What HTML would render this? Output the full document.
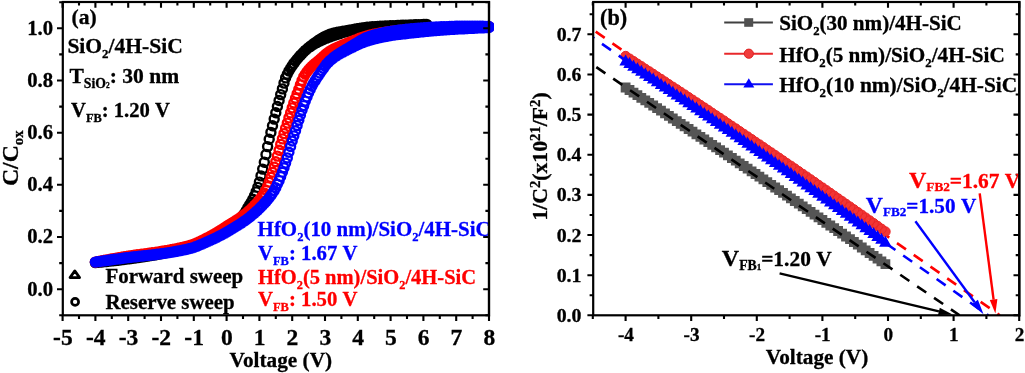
<!DOCTYPE html><html><head><meta charset="utf-8"><style>html,body{margin:0;padding:0;background:#fff;overflow:hidden}svg{display:block;filter:blur(0.4px)}</style></head><body>
<svg width="1025" height="373" viewBox="0 0 1025 373">
<rect width="1025" height="373" fill="#fff"/>
<clipPath id="clipA"><rect x="62.8" y="2.0" width="431.2" height="313.3"/></clipPath>
<g clip-path="url(#clipA)">
<path d="M313.1,47.6a4.5,4.5 0 1,0 -9.00,0a4.5,4.5 0 1,0 9.00,0M314.7,46.3a4.5,4.5 0 1,0 -9.00,0a4.5,4.5 0 1,0 9.00,0M316.4,45.1a4.5,4.5 0 1,0 -9.00,0a4.5,4.5 0 1,0 9.00,0M318.0,43.8a4.5,4.5 0 1,0 -9.00,0a4.5,4.5 0 1,0 9.00,0M319.7,42.6a4.5,4.5 0 1,0 -9.00,0a4.5,4.5 0 1,0 9.00,0M321.3,41.5a4.5,4.5 0 1,0 -9.00,0a4.5,4.5 0 1,0 9.00,0M322.9,40.3a4.5,4.5 0 1,0 -9.00,0a4.5,4.5 0 1,0 9.00,0M324.6,39.3a4.5,4.5 0 1,0 -9.00,0a4.5,4.5 0 1,0 9.00,0M326.2,38.3a4.5,4.5 0 1,0 -9.00,0a4.5,4.5 0 1,0 9.00,0M327.9,37.3a4.5,4.5 0 1,0 -9.00,0a4.5,4.5 0 1,0 9.00,0M329.5,36.4a4.5,4.5 0 1,0 -9.00,0a4.5,4.5 0 1,0 9.00,0M331.1,35.6a4.5,4.5 0 1,0 -9.00,0a4.5,4.5 0 1,0 9.00,0M332.8,34.9a4.5,4.5 0 1,0 -9.00,0a4.5,4.5 0 1,0 9.00,0M334.4,34.3a4.5,4.5 0 1,0 -9.00,0a4.5,4.5 0 1,0 9.00,0M336.1,33.8a4.5,4.5 0 1,0 -9.00,0a4.5,4.5 0 1,0 9.00,0M337.7,33.3a4.5,4.5 0 1,0 -9.00,0a4.5,4.5 0 1,0 9.00,0M339.3,32.9a4.5,4.5 0 1,0 -9.00,0a4.5,4.5 0 1,0 9.00,0M341.0,32.5a4.5,4.5 0 1,0 -9.00,0a4.5,4.5 0 1,0 9.00,0M342.6,32.2a4.5,4.5 0 1,0 -9.00,0a4.5,4.5 0 1,0 9.00,0M344.3,31.9a4.5,4.5 0 1,0 -9.00,0a4.5,4.5 0 1,0 9.00,0M345.9,31.6a4.5,4.5 0 1,0 -9.00,0a4.5,4.5 0 1,0 9.00,0M347.5,31.3a4.5,4.5 0 1,0 -9.00,0a4.5,4.5 0 1,0 9.00,0M349.2,31.1a4.5,4.5 0 1,0 -9.00,0a4.5,4.5 0 1,0 9.00,0M350.8,30.8a4.5,4.5 0 1,0 -9.00,0a4.5,4.5 0 1,0 9.00,0M352.5,30.5a4.5,4.5 0 1,0 -9.00,0a4.5,4.5 0 1,0 9.00,0M354.1,30.2a4.5,4.5 0 1,0 -9.00,0a4.5,4.5 0 1,0 9.00,0M355.7,29.9a4.5,4.5 0 1,0 -9.00,0a4.5,4.5 0 1,0 9.00,0M357.4,29.6a4.5,4.5 0 1,0 -9.00,0a4.5,4.5 0 1,0 9.00,0M359.0,29.3a4.5,4.5 0 1,0 -9.00,0a4.5,4.5 0 1,0 9.00,0M360.7,29.0a4.5,4.5 0 1,0 -9.00,0a4.5,4.5 0 1,0 9.00,0M362.3,28.7a4.5,4.5 0 1,0 -9.00,0a4.5,4.5 0 1,0 9.00,0M363.9,28.4a4.5,4.5 0 1,0 -9.00,0a4.5,4.5 0 1,0 9.00,0M365.6,28.1a4.5,4.5 0 1,0 -9.00,0a4.5,4.5 0 1,0 9.00,0M367.2,27.9a4.5,4.5 0 1,0 -9.00,0a4.5,4.5 0 1,0 9.00,0M368.9,27.6a4.5,4.5 0 1,0 -9.00,0a4.5,4.5 0 1,0 9.00,0M370.5,27.4a4.5,4.5 0 1,0 -9.00,0a4.5,4.5 0 1,0 9.00,0M313.1,47.7a4.5,4.5 0 1,0 -9.00,0a4.5,4.5 0 1,0 9.00,0M314.7,46.6a4.5,4.5 0 1,0 -9.00,0a4.5,4.5 0 1,0 9.00,0M316.4,45.5a4.5,4.5 0 1,0 -9.00,0a4.5,4.5 0 1,0 9.00,0M318.0,44.5a4.5,4.5 0 1,0 -9.00,0a4.5,4.5 0 1,0 9.00,0M319.7,43.5a4.5,4.5 0 1,0 -9.00,0a4.5,4.5 0 1,0 9.00,0M321.3,42.6a4.5,4.5 0 1,0 -9.00,0a4.5,4.5 0 1,0 9.00,0M322.9,41.8a4.5,4.5 0 1,0 -9.00,0a4.5,4.5 0 1,0 9.00,0M324.6,41.0a4.5,4.5 0 1,0 -9.00,0a4.5,4.5 0 1,0 9.00,0M326.2,40.2a4.5,4.5 0 1,0 -9.00,0a4.5,4.5 0 1,0 9.00,0M327.9,39.5a4.5,4.5 0 1,0 -9.00,0a4.5,4.5 0 1,0 9.00,0M329.5,38.8a4.5,4.5 0 1,0 -9.00,0a4.5,4.5 0 1,0 9.00,0M331.1,38.1a4.5,4.5 0 1,0 -9.00,0a4.5,4.5 0 1,0 9.00,0M332.8,37.5a4.5,4.5 0 1,0 -9.00,0a4.5,4.5 0 1,0 9.00,0M334.4,36.9a4.5,4.5 0 1,0 -9.00,0a4.5,4.5 0 1,0 9.00,0M336.1,36.3a4.5,4.5 0 1,0 -9.00,0a4.5,4.5 0 1,0 9.00,0M337.7,35.8a4.5,4.5 0 1,0 -9.00,0a4.5,4.5 0 1,0 9.00,0M339.3,35.2a4.5,4.5 0 1,0 -9.00,0a4.5,4.5 0 1,0 9.00,0M341.0,34.6a4.5,4.5 0 1,0 -9.00,0a4.5,4.5 0 1,0 9.00,0M342.6,34.1a4.5,4.5 0 1,0 -9.00,0a4.5,4.5 0 1,0 9.00,0M344.3,33.6a4.5,4.5 0 1,0 -9.00,0a4.5,4.5 0 1,0 9.00,0M345.9,33.0a4.5,4.5 0 1,0 -9.00,0a4.5,4.5 0 1,0 9.00,0M347.5,32.5a4.5,4.5 0 1,0 -9.00,0a4.5,4.5 0 1,0 9.00,0M349.2,32.1a4.5,4.5 0 1,0 -9.00,0a4.5,4.5 0 1,0 9.00,0M350.8,31.6a4.5,4.5 0 1,0 -9.00,0a4.5,4.5 0 1,0 9.00,0M352.5,31.2a4.5,4.5 0 1,0 -9.00,0a4.5,4.5 0 1,0 9.00,0M354.1,30.8a4.5,4.5 0 1,0 -9.00,0a4.5,4.5 0 1,0 9.00,0M355.7,30.4a4.5,4.5 0 1,0 -9.00,0a4.5,4.5 0 1,0 9.00,0M357.4,30.1a4.5,4.5 0 1,0 -9.00,0a4.5,4.5 0 1,0 9.00,0M359.0,29.7a4.5,4.5 0 1,0 -9.00,0a4.5,4.5 0 1,0 9.00,0M360.7,29.3a4.5,4.5 0 1,0 -9.00,0a4.5,4.5 0 1,0 9.00,0M362.3,29.0a4.5,4.5 0 1,0 -9.00,0a4.5,4.5 0 1,0 9.00,0M363.9,28.6a4.5,4.5 0 1,0 -9.00,0a4.5,4.5 0 1,0 9.00,0M365.6,28.3a4.5,4.5 0 1,0 -9.00,0a4.5,4.5 0 1,0 9.00,0M367.2,28.0a4.5,4.5 0 1,0 -9.00,0a4.5,4.5 0 1,0 9.00,0M368.9,27.7a4.5,4.5 0 1,0 -9.00,0a4.5,4.5 0 1,0 9.00,0M370.5,27.5a4.5,4.5 0 1,0 -9.00,0a4.5,4.5 0 1,0 9.00,0M99.9,262.6a4.5,4.5 0 1,0 -9.00,0a4.5,4.5 0 1,0 9.00,0M101.5,262.4a4.5,4.5 0 1,0 -9.00,0a4.5,4.5 0 1,0 9.00,0M103.2,262.3a4.5,4.5 0 1,0 -9.00,0a4.5,4.5 0 1,0 9.00,0M104.8,262.1a4.5,4.5 0 1,0 -9.00,0a4.5,4.5 0 1,0 9.00,0M106.5,262.0a4.5,4.5 0 1,0 -9.00,0a4.5,4.5 0 1,0 9.00,0M108.1,261.8a4.5,4.5 0 1,0 -9.00,0a4.5,4.5 0 1,0 9.00,0M109.7,261.6a4.5,4.5 0 1,0 -9.00,0a4.5,4.5 0 1,0 9.00,0M111.4,261.5a4.5,4.5 0 1,0 -9.00,0a4.5,4.5 0 1,0 9.00,0M113.0,261.3a4.5,4.5 0 1,0 -9.00,0a4.5,4.5 0 1,0 9.00,0M114.7,261.1a4.5,4.5 0 1,0 -9.00,0a4.5,4.5 0 1,0 9.00,0M116.3,260.9a4.5,4.5 0 1,0 -9.00,0a4.5,4.5 0 1,0 9.00,0M117.9,260.8a4.5,4.5 0 1,0 -9.00,0a4.5,4.5 0 1,0 9.00,0M119.6,260.6a4.5,4.5 0 1,0 -9.00,0a4.5,4.5 0 1,0 9.00,0M121.2,260.4a4.5,4.5 0 1,0 -9.00,0a4.5,4.5 0 1,0 9.00,0M122.9,260.2a4.5,4.5 0 1,0 -9.00,0a4.5,4.5 0 1,0 9.00,0M124.5,260.0a4.5,4.5 0 1,0 -9.00,0a4.5,4.5 0 1,0 9.00,0M126.1,259.8a4.5,4.5 0 1,0 -9.00,0a4.5,4.5 0 1,0 9.00,0M127.8,259.6a4.5,4.5 0 1,0 -9.00,0a4.5,4.5 0 1,0 9.00,0M129.4,259.4a4.5,4.5 0 1,0 -9.00,0a4.5,4.5 0 1,0 9.00,0M131.1,259.1a4.5,4.5 0 1,0 -9.00,0a4.5,4.5 0 1,0 9.00,0M132.7,258.9a4.5,4.5 0 1,0 -9.00,0a4.5,4.5 0 1,0 9.00,0M134.3,258.7a4.5,4.5 0 1,0 -9.00,0a4.5,4.5 0 1,0 9.00,0M136.0,258.5a4.5,4.5 0 1,0 -9.00,0a4.5,4.5 0 1,0 9.00,0M137.6,258.3a4.5,4.5 0 1,0 -9.00,0a4.5,4.5 0 1,0 9.00,0M139.3,258.1a4.5,4.5 0 1,0 -9.00,0a4.5,4.5 0 1,0 9.00,0M140.9,257.8a4.5,4.5 0 1,0 -9.00,0a4.5,4.5 0 1,0 9.00,0M142.5,257.6a4.5,4.5 0 1,0 -9.00,0a4.5,4.5 0 1,0 9.00,0M144.2,257.4a4.5,4.5 0 1,0 -9.00,0a4.5,4.5 0 1,0 9.00,0M145.8,257.1a4.5,4.5 0 1,0 -9.00,0a4.5,4.5 0 1,0 9.00,0M147.5,256.9a4.5,4.5 0 1,0 -9.00,0a4.5,4.5 0 1,0 9.00,0M149.1,256.6a4.5,4.5 0 1,0 -9.00,0a4.5,4.5 0 1,0 9.00,0M150.7,256.4a4.5,4.5 0 1,0 -9.00,0a4.5,4.5 0 1,0 9.00,0M152.4,256.1a4.5,4.5 0 1,0 -9.00,0a4.5,4.5 0 1,0 9.00,0M154.0,255.8a4.5,4.5 0 1,0 -9.00,0a4.5,4.5 0 1,0 9.00,0M155.7,255.5a4.5,4.5 0 1,0 -9.00,0a4.5,4.5 0 1,0 9.00,0M157.3,255.3a4.5,4.5 0 1,0 -9.00,0a4.5,4.5 0 1,0 9.00,0M158.9,255.0a4.5,4.5 0 1,0 -9.00,0a4.5,4.5 0 1,0 9.00,0M160.6,254.7a4.5,4.5 0 1,0 -9.00,0a4.5,4.5 0 1,0 9.00,0M162.2,254.4a4.5,4.5 0 1,0 -9.00,0a4.5,4.5 0 1,0 9.00,0M163.9,254.0a4.5,4.5 0 1,0 -9.00,0a4.5,4.5 0 1,0 9.00,0M165.5,253.7a4.5,4.5 0 1,0 -9.00,0a4.5,4.5 0 1,0 9.00,0M167.1,253.4a4.5,4.5 0 1,0 -9.00,0a4.5,4.5 0 1,0 9.00,0M168.8,253.0a4.5,4.5 0 1,0 -9.00,0a4.5,4.5 0 1,0 9.00,0M170.4,252.7a4.5,4.5 0 1,0 -9.00,0a4.5,4.5 0 1,0 9.00,0M172.1,252.3a4.5,4.5 0 1,0 -9.00,0a4.5,4.5 0 1,0 9.00,0M173.7,251.9a4.5,4.5 0 1,0 -9.00,0a4.5,4.5 0 1,0 9.00,0M175.3,251.6a4.5,4.5 0 1,0 -9.00,0a4.5,4.5 0 1,0 9.00,0M177.0,251.2a4.5,4.5 0 1,0 -9.00,0a4.5,4.5 0 1,0 9.00,0M178.6,250.8a4.5,4.5 0 1,0 -9.00,0a4.5,4.5 0 1,0 9.00,0M180.3,250.3a4.5,4.5 0 1,0 -9.00,0a4.5,4.5 0 1,0 9.00,0M181.9,249.9a4.5,4.5 0 1,0 -9.00,0a4.5,4.5 0 1,0 9.00,0M183.5,249.5a4.5,4.5 0 1,0 -9.00,0a4.5,4.5 0 1,0 9.00,0M185.2,249.0a4.5,4.5 0 1,0 -9.00,0a4.5,4.5 0 1,0 9.00,0M186.8,248.5a4.5,4.5 0 1,0 -9.00,0a4.5,4.5 0 1,0 9.00,0M188.5,248.0a4.5,4.5 0 1,0 -9.00,0a4.5,4.5 0 1,0 9.00,0M190.1,247.5a4.5,4.5 0 1,0 -9.00,0a4.5,4.5 0 1,0 9.00,0M191.7,247.0a4.5,4.5 0 1,0 -9.00,0a4.5,4.5 0 1,0 9.00,0M193.4,246.5a4.5,4.5 0 1,0 -9.00,0a4.5,4.5 0 1,0 9.00,0M195.0,246.0a4.5,4.5 0 1,0 -9.00,0a4.5,4.5 0 1,0 9.00,0M196.7,245.4a4.5,4.5 0 1,0 -9.00,0a4.5,4.5 0 1,0 9.00,0M198.3,244.8a4.5,4.5 0 1,0 -9.00,0a4.5,4.5 0 1,0 9.00,0M199.9,244.2a4.5,4.5 0 1,0 -9.00,0a4.5,4.5 0 1,0 9.00,0M201.6,243.6a4.5,4.5 0 1,0 -9.00,0a4.5,4.5 0 1,0 9.00,0M203.2,242.9a4.5,4.5 0 1,0 -9.00,0a4.5,4.5 0 1,0 9.00,0M204.9,242.2a4.5,4.5 0 1,0 -9.00,0a4.5,4.5 0 1,0 9.00,0M206.5,241.5a4.5,4.5 0 1,0 -9.00,0a4.5,4.5 0 1,0 9.00,0M208.1,240.7a4.5,4.5 0 1,0 -9.00,0a4.5,4.5 0 1,0 9.00,0M209.8,239.9a4.5,4.5 0 1,0 -9.00,0a4.5,4.5 0 1,0 9.00,0M211.4,239.1a4.5,4.5 0 1,0 -9.00,0a4.5,4.5 0 1,0 9.00,0M213.1,238.2a4.5,4.5 0 1,0 -9.00,0a4.5,4.5 0 1,0 9.00,0M214.7,237.4a4.5,4.5 0 1,0 -9.00,0a4.5,4.5 0 1,0 9.00,0M216.3,236.5a4.5,4.5 0 1,0 -9.00,0a4.5,4.5 0 1,0 9.00,0M218.0,235.6a4.5,4.5 0 1,0 -9.00,0a4.5,4.5 0 1,0 9.00,0M219.6,234.8a4.5,4.5 0 1,0 -9.00,0a4.5,4.5 0 1,0 9.00,0M221.3,233.9a4.5,4.5 0 1,0 -9.00,0a4.5,4.5 0 1,0 9.00,0M222.9,233.0a4.5,4.5 0 1,0 -9.00,0a4.5,4.5 0 1,0 9.00,0M224.5,232.1a4.5,4.5 0 1,0 -9.00,0a4.5,4.5 0 1,0 9.00,0M226.2,231.2a4.5,4.5 0 1,0 -9.00,0a4.5,4.5 0 1,0 9.00,0M227.8,230.3a4.5,4.5 0 1,0 -9.00,0a4.5,4.5 0 1,0 9.00,0M229.5,229.3a4.5,4.5 0 1,0 -9.00,0a4.5,4.5 0 1,0 9.00,0M231.1,228.3a4.5,4.5 0 1,0 -9.00,0a4.5,4.5 0 1,0 9.00,0M232.7,227.3a4.5,4.5 0 1,0 -9.00,0a4.5,4.5 0 1,0 9.00,0M234.4,226.2a4.5,4.5 0 1,0 -9.00,0a4.5,4.5 0 1,0 9.00,0M236.0,225.1a4.5,4.5 0 1,0 -9.00,0a4.5,4.5 0 1,0 9.00,0M237.7,224.0a4.5,4.5 0 1,0 -9.00,0a4.5,4.5 0 1,0 9.00,0M239.3,222.8a4.5,4.5 0 1,0 -9.00,0a4.5,4.5 0 1,0 9.00,0M240.9,221.6a4.5,4.5 0 1,0 -9.00,0a4.5,4.5 0 1,0 9.00,0M242.6,220.3a4.5,4.5 0 1,0 -9.00,0a4.5,4.5 0 1,0 9.00,0M244.2,219.0a4.5,4.5 0 1,0 -9.00,0a4.5,4.5 0 1,0 9.00,0M245.9,217.4a4.5,4.5 0 1,0 -9.00,0a4.5,4.5 0 1,0 9.00,0M247.5,215.6a4.5,4.5 0 1,0 -9.00,0a4.5,4.5 0 1,0 9.00,0M249.1,213.3a4.5,4.5 0 1,0 -9.00,0a4.5,4.5 0 1,0 9.00,0M250.8,210.5a4.5,4.5 0 1,0 -9.00,0a4.5,4.5 0 1,0 9.00,0M252.4,207.6a4.5,4.5 0 1,0 -9.00,0a4.5,4.5 0 1,0 9.00,0M254.1,204.9a4.5,4.5 0 1,0 -9.00,0a4.5,4.5 0 1,0 9.00,0M255.7,202.2a4.5,4.5 0 1,0 -9.00,0a4.5,4.5 0 1,0 9.00,0M257.3,199.2a4.5,4.5 0 1,0 -9.00,0a4.5,4.5 0 1,0 9.00,0M259.0,195.8a4.5,4.5 0 1,0 -9.00,0a4.5,4.5 0 1,0 9.00,0M260.6,191.9a4.5,4.5 0 1,0 -9.00,0a4.5,4.5 0 1,0 9.00,0M262.3,187.4a4.5,4.5 0 1,0 -9.00,0a4.5,4.5 0 1,0 9.00,0M263.9,182.1a4.5,4.5 0 1,0 -9.00,0a4.5,4.5 0 1,0 9.00,0M265.5,175.9a4.5,4.5 0 1,0 -9.00,0a4.5,4.5 0 1,0 9.00,0M267.2,169.1a4.5,4.5 0 1,0 -9.00,0a4.5,4.5 0 1,0 9.00,0M268.8,162.2a4.5,4.5 0 1,0 -9.00,0a4.5,4.5 0 1,0 9.00,0M270.5,154.5a4.5,4.5 0 1,0 -9.00,0a4.5,4.5 0 1,0 9.00,0M272.1,146.6a4.5,4.5 0 1,0 -9.00,0a4.5,4.5 0 1,0 9.00,0M273.7,139.3a4.5,4.5 0 1,0 -9.00,0a4.5,4.5 0 1,0 9.00,0M275.4,132.4a4.5,4.5 0 1,0 -9.00,0a4.5,4.5 0 1,0 9.00,0M277.0,125.7a4.5,4.5 0 1,0 -9.00,0a4.5,4.5 0 1,0 9.00,0M278.7,119.1a4.5,4.5 0 1,0 -9.00,0a4.5,4.5 0 1,0 9.00,0M280.3,112.7a4.5,4.5 0 1,0 -9.00,0a4.5,4.5 0 1,0 9.00,0M281.9,106.5a4.5,4.5 0 1,0 -9.00,0a4.5,4.5 0 1,0 9.00,0M283.6,100.5a4.5,4.5 0 1,0 -9.00,0a4.5,4.5 0 1,0 9.00,0M285.2,94.6a4.5,4.5 0 1,0 -9.00,0a4.5,4.5 0 1,0 9.00,0M286.9,88.9a4.5,4.5 0 1,0 -9.00,0a4.5,4.5 0 1,0 9.00,0M288.5,83.1a4.5,4.5 0 1,0 -9.00,0a4.5,4.5 0 1,0 9.00,0M290.1,77.9a4.5,4.5 0 1,0 -9.00,0a4.5,4.5 0 1,0 9.00,0M291.8,74.2a4.5,4.5 0 1,0 -9.00,0a4.5,4.5 0 1,0 9.00,0M293.4,71.0a4.5,4.5 0 1,0 -9.00,0a4.5,4.5 0 1,0 9.00,0M295.1,68.2a4.5,4.5 0 1,0 -9.00,0a4.5,4.5 0 1,0 9.00,0M296.7,65.7a4.5,4.5 0 1,0 -9.00,0a4.5,4.5 0 1,0 9.00,0M298.3,63.4a4.5,4.5 0 1,0 -9.00,0a4.5,4.5 0 1,0 9.00,0M300.0,61.2a4.5,4.5 0 1,0 -9.00,0a4.5,4.5 0 1,0 9.00,0M301.6,59.2a4.5,4.5 0 1,0 -9.00,0a4.5,4.5 0 1,0 9.00,0M303.3,57.3a4.5,4.5 0 1,0 -9.00,0a4.5,4.5 0 1,0 9.00,0M304.9,55.4a4.5,4.5 0 1,0 -9.00,0a4.5,4.5 0 1,0 9.00,0M306.5,53.7a4.5,4.5 0 1,0 -9.00,0a4.5,4.5 0 1,0 9.00,0M308.2,52.0a4.5,4.5 0 1,0 -9.00,0a4.5,4.5 0 1,0 9.00,0M309.8,50.4a4.5,4.5 0 1,0 -9.00,0a4.5,4.5 0 1,0 9.00,0M311.5,49.0a4.5,4.5 0 1,0 -9.00,0a4.5,4.5 0 1,0 9.00,0M313.1,47.7a4.5,4.5 0 1,0 -9.00,0a4.5,4.5 0 1,0 9.00,0M314.7,46.4a4.5,4.5 0 1,0 -9.00,0a4.5,4.5 0 1,0 9.00,0M316.4,45.3a4.5,4.5 0 1,0 -9.00,0a4.5,4.5 0 1,0 9.00,0M318.0,44.2a4.5,4.5 0 1,0 -9.00,0a4.5,4.5 0 1,0 9.00,0M319.7,43.1a4.5,4.5 0 1,0 -9.00,0a4.5,4.5 0 1,0 9.00,0M321.3,42.1a4.5,4.5 0 1,0 -9.00,0a4.5,4.5 0 1,0 9.00,0M322.9,41.1a4.5,4.5 0 1,0 -9.00,0a4.5,4.5 0 1,0 9.00,0M324.6,40.1a4.5,4.5 0 1,0 -9.00,0a4.5,4.5 0 1,0 9.00,0M326.2,39.2a4.5,4.5 0 1,0 -9.00,0a4.5,4.5 0 1,0 9.00,0M327.9,38.4a4.5,4.5 0 1,0 -9.00,0a4.5,4.5 0 1,0 9.00,0M329.5,37.6a4.5,4.5 0 1,0 -9.00,0a4.5,4.5 0 1,0 9.00,0M331.1,36.9a4.5,4.5 0 1,0 -9.00,0a4.5,4.5 0 1,0 9.00,0M332.8,36.2a4.5,4.5 0 1,0 -9.00,0a4.5,4.5 0 1,0 9.00,0M334.4,35.6a4.5,4.5 0 1,0 -9.00,0a4.5,4.5 0 1,0 9.00,0M336.1,35.0a4.5,4.5 0 1,0 -9.00,0a4.5,4.5 0 1,0 9.00,0M337.7,34.5a4.5,4.5 0 1,0 -9.00,0a4.5,4.5 0 1,0 9.00,0M339.3,34.0a4.5,4.5 0 1,0 -9.00,0a4.5,4.5 0 1,0 9.00,0M341.0,33.6a4.5,4.5 0 1,0 -9.00,0a4.5,4.5 0 1,0 9.00,0M342.6,33.1a4.5,4.5 0 1,0 -9.00,0a4.5,4.5 0 1,0 9.00,0M344.3,32.7a4.5,4.5 0 1,0 -9.00,0a4.5,4.5 0 1,0 9.00,0M345.9,32.3a4.5,4.5 0 1,0 -9.00,0a4.5,4.5 0 1,0 9.00,0M347.5,31.9a4.5,4.5 0 1,0 -9.00,0a4.5,4.5 0 1,0 9.00,0M349.2,31.6a4.5,4.5 0 1,0 -9.00,0a4.5,4.5 0 1,0 9.00,0M350.8,31.2a4.5,4.5 0 1,0 -9.00,0a4.5,4.5 0 1,0 9.00,0M352.5,30.9a4.5,4.5 0 1,0 -9.00,0a4.5,4.5 0 1,0 9.00,0M354.1,30.5a4.5,4.5 0 1,0 -9.00,0a4.5,4.5 0 1,0 9.00,0M355.7,30.2a4.5,4.5 0 1,0 -9.00,0a4.5,4.5 0 1,0 9.00,0M357.4,29.8a4.5,4.5 0 1,0 -9.00,0a4.5,4.5 0 1,0 9.00,0M359.0,29.5a4.5,4.5 0 1,0 -9.00,0a4.5,4.5 0 1,0 9.00,0M360.7,29.2a4.5,4.5 0 1,0 -9.00,0a4.5,4.5 0 1,0 9.00,0M362.3,28.8a4.5,4.5 0 1,0 -9.00,0a4.5,4.5 0 1,0 9.00,0M363.9,28.5a4.5,4.5 0 1,0 -9.00,0a4.5,4.5 0 1,0 9.00,0M365.6,28.2a4.5,4.5 0 1,0 -9.00,0a4.5,4.5 0 1,0 9.00,0M367.2,27.9a4.5,4.5 0 1,0 -9.00,0a4.5,4.5 0 1,0 9.00,0M368.9,27.7a4.5,4.5 0 1,0 -9.00,0a4.5,4.5 0 1,0 9.00,0M370.5,27.4a4.5,4.5 0 1,0 -9.00,0a4.5,4.5 0 1,0 9.00,0M372.1,27.2a4.5,4.5 0 1,0 -9.00,0a4.5,4.5 0 1,0 9.00,0M373.8,27.1a4.5,4.5 0 1,0 -9.00,0a4.5,4.5 0 1,0 9.00,0M375.4,26.9a4.5,4.5 0 1,0 -9.00,0a4.5,4.5 0 1,0 9.00,0M377.1,26.8a4.5,4.5 0 1,0 -9.00,0a4.5,4.5 0 1,0 9.00,0M378.7,26.7a4.5,4.5 0 1,0 -9.00,0a4.5,4.5 0 1,0 9.00,0M380.3,26.6a4.5,4.5 0 1,0 -9.00,0a4.5,4.5 0 1,0 9.00,0M382.0,26.5a4.5,4.5 0 1,0 -9.00,0a4.5,4.5 0 1,0 9.00,0M383.6,26.4a4.5,4.5 0 1,0 -9.00,0a4.5,4.5 0 1,0 9.00,0M385.3,26.3a4.5,4.5 0 1,0 -9.00,0a4.5,4.5 0 1,0 9.00,0M386.9,26.2a4.5,4.5 0 1,0 -9.00,0a4.5,4.5 0 1,0 9.00,0M388.5,26.1a4.5,4.5 0 1,0 -9.00,0a4.5,4.5 0 1,0 9.00,0M390.2,26.0a4.5,4.5 0 1,0 -9.00,0a4.5,4.5 0 1,0 9.00,0M391.8,26.0a4.5,4.5 0 1,0 -9.00,0a4.5,4.5 0 1,0 9.00,0M393.5,25.9a4.5,4.5 0 1,0 -9.00,0a4.5,4.5 0 1,0 9.00,0M395.1,25.8a4.5,4.5 0 1,0 -9.00,0a4.5,4.5 0 1,0 9.00,0M396.7,25.7a4.5,4.5 0 1,0 -9.00,0a4.5,4.5 0 1,0 9.00,0M398.4,25.7a4.5,4.5 0 1,0 -9.00,0a4.5,4.5 0 1,0 9.00,0M400.0,25.6a4.5,4.5 0 1,0 -9.00,0a4.5,4.5 0 1,0 9.00,0M401.7,25.5a4.5,4.5 0 1,0 -9.00,0a4.5,4.5 0 1,0 9.00,0M403.3,25.5a4.5,4.5 0 1,0 -9.00,0a4.5,4.5 0 1,0 9.00,0M404.9,25.4a4.5,4.5 0 1,0 -9.00,0a4.5,4.5 0 1,0 9.00,0M406.6,25.3a4.5,4.5 0 1,0 -9.00,0a4.5,4.5 0 1,0 9.00,0M408.2,25.3a4.5,4.5 0 1,0 -9.00,0a4.5,4.5 0 1,0 9.00,0M409.9,25.2a4.5,4.5 0 1,0 -9.00,0a4.5,4.5 0 1,0 9.00,0M411.5,25.1a4.5,4.5 0 1,0 -9.00,0a4.5,4.5 0 1,0 9.00,0M413.1,25.1a4.5,4.5 0 1,0 -9.00,0a4.5,4.5 0 1,0 9.00,0M414.8,25.0a4.5,4.5 0 1,0 -9.00,0a4.5,4.5 0 1,0 9.00,0M416.4,24.9a4.5,4.5 0 1,0 -9.00,0a4.5,4.5 0 1,0 9.00,0M418.1,24.9a4.5,4.5 0 1,0 -9.00,0a4.5,4.5 0 1,0 9.00,0M419.7,24.8a4.5,4.5 0 1,0 -9.00,0a4.5,4.5 0 1,0 9.00,0M421.3,24.7a4.5,4.5 0 1,0 -9.00,0a4.5,4.5 0 1,0 9.00,0M423.0,24.7a4.5,4.5 0 1,0 -9.00,0a4.5,4.5 0 1,0 9.00,0M424.6,24.6a4.5,4.5 0 1,0 -9.00,0a4.5,4.5 0 1,0 9.00,0M426.3,24.6a4.5,4.5 0 1,0 -9.00,0a4.5,4.5 0 1,0 9.00,0M427.9,24.5a4.5,4.5 0 1,0 -9.00,0a4.5,4.5 0 1,0 9.00,0M429.5,24.4a4.5,4.5 0 1,0 -9.00,0a4.5,4.5 0 1,0 9.00,0M431.2,24.4a4.5,4.5 0 1,0 -9.00,0a4.5,4.5 0 1,0 9.00,0" fill="none" stroke="#000" stroke-width="2.4"/>
<path d="M99.9,262.1a4.5,4.5 0 1,0 -9.00,0a4.5,4.5 0 1,0 9.00,0M101.5,261.7a4.5,4.5 0 1,0 -9.00,0a4.5,4.5 0 1,0 9.00,0M103.2,261.4a4.5,4.5 0 1,0 -9.00,0a4.5,4.5 0 1,0 9.00,0M104.8,261.1a4.5,4.5 0 1,0 -9.00,0a4.5,4.5 0 1,0 9.00,0M106.5,260.8a4.5,4.5 0 1,0 -9.00,0a4.5,4.5 0 1,0 9.00,0M108.1,260.5a4.5,4.5 0 1,0 -9.00,0a4.5,4.5 0 1,0 9.00,0M109.7,260.2a4.5,4.5 0 1,0 -9.00,0a4.5,4.5 0 1,0 9.00,0M111.4,259.9a4.5,4.5 0 1,0 -9.00,0a4.5,4.5 0 1,0 9.00,0M113.0,259.6a4.5,4.5 0 1,0 -9.00,0a4.5,4.5 0 1,0 9.00,0M114.7,259.3a4.5,4.5 0 1,0 -9.00,0a4.5,4.5 0 1,0 9.00,0M116.3,259.0a4.5,4.5 0 1,0 -9.00,0a4.5,4.5 0 1,0 9.00,0M117.9,258.7a4.5,4.5 0 1,0 -9.00,0a4.5,4.5 0 1,0 9.00,0M119.6,258.4a4.5,4.5 0 1,0 -9.00,0a4.5,4.5 0 1,0 9.00,0M121.2,258.1a4.5,4.5 0 1,0 -9.00,0a4.5,4.5 0 1,0 9.00,0M122.9,257.8a4.5,4.5 0 1,0 -9.00,0a4.5,4.5 0 1,0 9.00,0M124.5,257.6a4.5,4.5 0 1,0 -9.00,0a4.5,4.5 0 1,0 9.00,0M126.1,257.3a4.5,4.5 0 1,0 -9.00,0a4.5,4.5 0 1,0 9.00,0M127.8,257.0a4.5,4.5 0 1,0 -9.00,0a4.5,4.5 0 1,0 9.00,0M129.4,256.7a4.5,4.5 0 1,0 -9.00,0a4.5,4.5 0 1,0 9.00,0M131.1,256.5a4.5,4.5 0 1,0 -9.00,0a4.5,4.5 0 1,0 9.00,0M132.7,256.2a4.5,4.5 0 1,0 -9.00,0a4.5,4.5 0 1,0 9.00,0M134.3,256.0a4.5,4.5 0 1,0 -9.00,0a4.5,4.5 0 1,0 9.00,0M136.0,255.7a4.5,4.5 0 1,0 -9.00,0a4.5,4.5 0 1,0 9.00,0M137.6,255.5a4.5,4.5 0 1,0 -9.00,0a4.5,4.5 0 1,0 9.00,0M139.3,255.2a4.5,4.5 0 1,0 -9.00,0a4.5,4.5 0 1,0 9.00,0M140.9,255.0a4.5,4.5 0 1,0 -9.00,0a4.5,4.5 0 1,0 9.00,0M142.5,254.8a4.5,4.5 0 1,0 -9.00,0a4.5,4.5 0 1,0 9.00,0M144.2,254.6a4.5,4.5 0 1,0 -9.00,0a4.5,4.5 0 1,0 9.00,0M145.8,254.3a4.5,4.5 0 1,0 -9.00,0a4.5,4.5 0 1,0 9.00,0M147.5,254.1a4.5,4.5 0 1,0 -9.00,0a4.5,4.5 0 1,0 9.00,0M149.1,253.9a4.5,4.5 0 1,0 -9.00,0a4.5,4.5 0 1,0 9.00,0M150.7,253.7a4.5,4.5 0 1,0 -9.00,0a4.5,4.5 0 1,0 9.00,0M152.4,253.5a4.5,4.5 0 1,0 -9.00,0a4.5,4.5 0 1,0 9.00,0M154.0,253.3a4.5,4.5 0 1,0 -9.00,0a4.5,4.5 0 1,0 9.00,0M155.7,253.0a4.5,4.5 0 1,0 -9.00,0a4.5,4.5 0 1,0 9.00,0M157.3,252.8a4.5,4.5 0 1,0 -9.00,0a4.5,4.5 0 1,0 9.00,0M158.9,252.6a4.5,4.5 0 1,0 -9.00,0a4.5,4.5 0 1,0 9.00,0M160.6,252.3a4.5,4.5 0 1,0 -9.00,0a4.5,4.5 0 1,0 9.00,0M162.2,252.1a4.5,4.5 0 1,0 -9.00,0a4.5,4.5 0 1,0 9.00,0M163.9,251.8a4.5,4.5 0 1,0 -9.00,0a4.5,4.5 0 1,0 9.00,0M165.5,251.5a4.5,4.5 0 1,0 -9.00,0a4.5,4.5 0 1,0 9.00,0M167.1,251.3a4.5,4.5 0 1,0 -9.00,0a4.5,4.5 0 1,0 9.00,0M168.8,251.0a4.5,4.5 0 1,0 -9.00,0a4.5,4.5 0 1,0 9.00,0M170.4,250.7a4.5,4.5 0 1,0 -9.00,0a4.5,4.5 0 1,0 9.00,0M172.1,250.4a4.5,4.5 0 1,0 -9.00,0a4.5,4.5 0 1,0 9.00,0M173.7,250.1a4.5,4.5 0 1,0 -9.00,0a4.5,4.5 0 1,0 9.00,0M175.3,249.8a4.5,4.5 0 1,0 -9.00,0a4.5,4.5 0 1,0 9.00,0M177.0,249.5a4.5,4.5 0 1,0 -9.00,0a4.5,4.5 0 1,0 9.00,0M178.6,249.2a4.5,4.5 0 1,0 -9.00,0a4.5,4.5 0 1,0 9.00,0M180.3,248.9a4.5,4.5 0 1,0 -9.00,0a4.5,4.5 0 1,0 9.00,0M181.9,248.5a4.5,4.5 0 1,0 -9.00,0a4.5,4.5 0 1,0 9.00,0M183.5,248.2a4.5,4.5 0 1,0 -9.00,0a4.5,4.5 0 1,0 9.00,0M185.2,247.8a4.5,4.5 0 1,0 -9.00,0a4.5,4.5 0 1,0 9.00,0M186.8,247.4a4.5,4.5 0 1,0 -9.00,0a4.5,4.5 0 1,0 9.00,0M188.5,247.0a4.5,4.5 0 1,0 -9.00,0a4.5,4.5 0 1,0 9.00,0M190.1,246.6a4.5,4.5 0 1,0 -9.00,0a4.5,4.5 0 1,0 9.00,0M191.7,246.2a4.5,4.5 0 1,0 -9.00,0a4.5,4.5 0 1,0 9.00,0M193.4,245.7a4.5,4.5 0 1,0 -9.00,0a4.5,4.5 0 1,0 9.00,0M195.0,245.2a4.5,4.5 0 1,0 -9.00,0a4.5,4.5 0 1,0 9.00,0M196.7,244.7a4.5,4.5 0 1,0 -9.00,0a4.5,4.5 0 1,0 9.00,0M198.3,244.1a4.5,4.5 0 1,0 -9.00,0a4.5,4.5 0 1,0 9.00,0M199.9,243.4a4.5,4.5 0 1,0 -9.00,0a4.5,4.5 0 1,0 9.00,0M201.6,242.7a4.5,4.5 0 1,0 -9.00,0a4.5,4.5 0 1,0 9.00,0M203.2,242.0a4.5,4.5 0 1,0 -9.00,0a4.5,4.5 0 1,0 9.00,0M204.9,241.2a4.5,4.5 0 1,0 -9.00,0a4.5,4.5 0 1,0 9.00,0M206.5,240.4a4.5,4.5 0 1,0 -9.00,0a4.5,4.5 0 1,0 9.00,0M208.1,239.6a4.5,4.5 0 1,0 -9.00,0a4.5,4.5 0 1,0 9.00,0M209.8,238.8a4.5,4.5 0 1,0 -9.00,0a4.5,4.5 0 1,0 9.00,0M211.4,237.9a4.5,4.5 0 1,0 -9.00,0a4.5,4.5 0 1,0 9.00,0M213.1,237.1a4.5,4.5 0 1,0 -9.00,0a4.5,4.5 0 1,0 9.00,0M214.7,236.2a4.5,4.5 0 1,0 -9.00,0a4.5,4.5 0 1,0 9.00,0M216.3,235.4a4.5,4.5 0 1,0 -9.00,0a4.5,4.5 0 1,0 9.00,0M218.0,234.4a4.5,4.5 0 1,0 -9.00,0a4.5,4.5 0 1,0 9.00,0M219.6,233.5a4.5,4.5 0 1,0 -9.00,0a4.5,4.5 0 1,0 9.00,0M221.3,232.5a4.5,4.5 0 1,0 -9.00,0a4.5,4.5 0 1,0 9.00,0M222.9,231.5a4.5,4.5 0 1,0 -9.00,0a4.5,4.5 0 1,0 9.00,0M224.5,230.5a4.5,4.5 0 1,0 -9.00,0a4.5,4.5 0 1,0 9.00,0M226.2,229.5a4.5,4.5 0 1,0 -9.00,0a4.5,4.5 0 1,0 9.00,0M227.8,228.5a4.5,4.5 0 1,0 -9.00,0a4.5,4.5 0 1,0 9.00,0M229.5,227.4a4.5,4.5 0 1,0 -9.00,0a4.5,4.5 0 1,0 9.00,0M231.1,226.3a4.5,4.5 0 1,0 -9.00,0a4.5,4.5 0 1,0 9.00,0M232.7,225.3a4.5,4.5 0 1,0 -9.00,0a4.5,4.5 0 1,0 9.00,0M234.4,224.2a4.5,4.5 0 1,0 -9.00,0a4.5,4.5 0 1,0 9.00,0M236.0,223.2a4.5,4.5 0 1,0 -9.00,0a4.5,4.5 0 1,0 9.00,0M237.7,222.2a4.5,4.5 0 1,0 -9.00,0a4.5,4.5 0 1,0 9.00,0M239.3,221.2a4.5,4.5 0 1,0 -9.00,0a4.5,4.5 0 1,0 9.00,0M240.9,220.1a4.5,4.5 0 1,0 -9.00,0a4.5,4.5 0 1,0 9.00,0M242.6,219.1a4.5,4.5 0 1,0 -9.00,0a4.5,4.5 0 1,0 9.00,0M244.2,218.0a4.5,4.5 0 1,0 -9.00,0a4.5,4.5 0 1,0 9.00,0M245.9,216.8a4.5,4.5 0 1,0 -9.00,0a4.5,4.5 0 1,0 9.00,0M247.5,215.6a4.5,4.5 0 1,0 -9.00,0a4.5,4.5 0 1,0 9.00,0M249.1,214.4a4.5,4.5 0 1,0 -9.00,0a4.5,4.5 0 1,0 9.00,0M250.8,213.2a4.5,4.5 0 1,0 -9.00,0a4.5,4.5 0 1,0 9.00,0M252.4,211.8a4.5,4.5 0 1,0 -9.00,0a4.5,4.5 0 1,0 9.00,0M254.1,210.4a4.5,4.5 0 1,0 -9.00,0a4.5,4.5 0 1,0 9.00,0M255.7,208.9a4.5,4.5 0 1,0 -9.00,0a4.5,4.5 0 1,0 9.00,0M257.3,207.3a4.5,4.5 0 1,0 -9.00,0a4.5,4.5 0 1,0 9.00,0M259.0,205.6a4.5,4.5 0 1,0 -9.00,0a4.5,4.5 0 1,0 9.00,0M260.6,203.9a4.5,4.5 0 1,0 -9.00,0a4.5,4.5 0 1,0 9.00,0M262.3,202.0a4.5,4.5 0 1,0 -9.00,0a4.5,4.5 0 1,0 9.00,0M263.9,200.0a4.5,4.5 0 1,0 -9.00,0a4.5,4.5 0 1,0 9.00,0M265.5,197.9a4.5,4.5 0 1,0 -9.00,0a4.5,4.5 0 1,0 9.00,0M267.2,195.6a4.5,4.5 0 1,0 -9.00,0a4.5,4.5 0 1,0 9.00,0M268.8,193.0a4.5,4.5 0 1,0 -9.00,0a4.5,4.5 0 1,0 9.00,0M270.5,190.1a4.5,4.5 0 1,0 -9.00,0a4.5,4.5 0 1,0 9.00,0M272.1,186.5a4.5,4.5 0 1,0 -9.00,0a4.5,4.5 0 1,0 9.00,0M273.7,182.2a4.5,4.5 0 1,0 -9.00,0a4.5,4.5 0 1,0 9.00,0M275.4,177.4a4.5,4.5 0 1,0 -9.00,0a4.5,4.5 0 1,0 9.00,0M277.0,172.3a4.5,4.5 0 1,0 -9.00,0a4.5,4.5 0 1,0 9.00,0M278.7,167.1a4.5,4.5 0 1,0 -9.00,0a4.5,4.5 0 1,0 9.00,0M280.3,161.8a4.5,4.5 0 1,0 -9.00,0a4.5,4.5 0 1,0 9.00,0M281.9,156.1a4.5,4.5 0 1,0 -9.00,0a4.5,4.5 0 1,0 9.00,0M283.6,150.2a4.5,4.5 0 1,0 -9.00,0a4.5,4.5 0 1,0 9.00,0M285.2,144.4a4.5,4.5 0 1,0 -9.00,0a4.5,4.5 0 1,0 9.00,0M286.9,138.9a4.5,4.5 0 1,0 -9.00,0a4.5,4.5 0 1,0 9.00,0M288.5,133.6a4.5,4.5 0 1,0 -9.00,0a4.5,4.5 0 1,0 9.00,0M290.1,128.3a4.5,4.5 0 1,0 -9.00,0a4.5,4.5 0 1,0 9.00,0M291.8,123.1a4.5,4.5 0 1,0 -9.00,0a4.5,4.5 0 1,0 9.00,0M293.4,117.9a4.5,4.5 0 1,0 -9.00,0a4.5,4.5 0 1,0 9.00,0M295.1,112.9a4.5,4.5 0 1,0 -9.00,0a4.5,4.5 0 1,0 9.00,0M296.7,107.9a4.5,4.5 0 1,0 -9.00,0a4.5,4.5 0 1,0 9.00,0M298.3,103.0a4.5,4.5 0 1,0 -9.00,0a4.5,4.5 0 1,0 9.00,0M300.0,98.3a4.5,4.5 0 1,0 -9.00,0a4.5,4.5 0 1,0 9.00,0M301.6,93.7a4.5,4.5 0 1,0 -9.00,0a4.5,4.5 0 1,0 9.00,0M303.3,89.2a4.5,4.5 0 1,0 -9.00,0a4.5,4.5 0 1,0 9.00,0M304.9,84.8a4.5,4.5 0 1,0 -9.00,0a4.5,4.5 0 1,0 9.00,0M306.5,80.5a4.5,4.5 0 1,0 -9.00,0a4.5,4.5 0 1,0 9.00,0M308.2,76.9a4.5,4.5 0 1,0 -9.00,0a4.5,4.5 0 1,0 9.00,0M309.8,74.2a4.5,4.5 0 1,0 -9.00,0a4.5,4.5 0 1,0 9.00,0M311.5,71.8a4.5,4.5 0 1,0 -9.00,0a4.5,4.5 0 1,0 9.00,0M313.1,69.8a4.5,4.5 0 1,0 -9.00,0a4.5,4.5 0 1,0 9.00,0M314.7,68.0a4.5,4.5 0 1,0 -9.00,0a4.5,4.5 0 1,0 9.00,0M316.4,66.3a4.5,4.5 0 1,0 -9.00,0a4.5,4.5 0 1,0 9.00,0M318.0,64.8a4.5,4.5 0 1,0 -9.00,0a4.5,4.5 0 1,0 9.00,0M319.7,63.4a4.5,4.5 0 1,0 -9.00,0a4.5,4.5 0 1,0 9.00,0M321.3,62.0a4.5,4.5 0 1,0 -9.00,0a4.5,4.5 0 1,0 9.00,0M322.9,60.7a4.5,4.5 0 1,0 -9.00,0a4.5,4.5 0 1,0 9.00,0M324.6,59.3a4.5,4.5 0 1,0 -9.00,0a4.5,4.5 0 1,0 9.00,0M326.2,57.9a4.5,4.5 0 1,0 -9.00,0a4.5,4.5 0 1,0 9.00,0M327.9,56.4a4.5,4.5 0 1,0 -9.00,0a4.5,4.5 0 1,0 9.00,0M329.5,54.9a4.5,4.5 0 1,0 -9.00,0a4.5,4.5 0 1,0 9.00,0M331.1,53.5a4.5,4.5 0 1,0 -9.00,0a4.5,4.5 0 1,0 9.00,0M332.8,52.2a4.5,4.5 0 1,0 -9.00,0a4.5,4.5 0 1,0 9.00,0M334.4,51.1a4.5,4.5 0 1,0 -9.00,0a4.5,4.5 0 1,0 9.00,0M336.1,50.1a4.5,4.5 0 1,0 -9.00,0a4.5,4.5 0 1,0 9.00,0M337.7,49.2a4.5,4.5 0 1,0 -9.00,0a4.5,4.5 0 1,0 9.00,0M339.3,48.4a4.5,4.5 0 1,0 -9.00,0a4.5,4.5 0 1,0 9.00,0M341.0,47.6a4.5,4.5 0 1,0 -9.00,0a4.5,4.5 0 1,0 9.00,0M342.6,46.9a4.5,4.5 0 1,0 -9.00,0a4.5,4.5 0 1,0 9.00,0M344.3,46.2a4.5,4.5 0 1,0 -9.00,0a4.5,4.5 0 1,0 9.00,0M345.9,45.5a4.5,4.5 0 1,0 -9.00,0a4.5,4.5 0 1,0 9.00,0M347.5,44.8a4.5,4.5 0 1,0 -9.00,0a4.5,4.5 0 1,0 9.00,0M349.2,44.2a4.5,4.5 0 1,0 -9.00,0a4.5,4.5 0 1,0 9.00,0M350.8,43.5a4.5,4.5 0 1,0 -9.00,0a4.5,4.5 0 1,0 9.00,0M352.5,42.9a4.5,4.5 0 1,0 -9.00,0a4.5,4.5 0 1,0 9.00,0M354.1,42.3a4.5,4.5 0 1,0 -9.00,0a4.5,4.5 0 1,0 9.00,0M355.7,41.6a4.5,4.5 0 1,0 -9.00,0a4.5,4.5 0 1,0 9.00,0M357.4,40.9a4.5,4.5 0 1,0 -9.00,0a4.5,4.5 0 1,0 9.00,0M359.0,40.3a4.5,4.5 0 1,0 -9.00,0a4.5,4.5 0 1,0 9.00,0M360.7,39.6a4.5,4.5 0 1,0 -9.00,0a4.5,4.5 0 1,0 9.00,0M362.3,39.0a4.5,4.5 0 1,0 -9.00,0a4.5,4.5 0 1,0 9.00,0M363.9,38.3a4.5,4.5 0 1,0 -9.00,0a4.5,4.5 0 1,0 9.00,0M365.6,37.7a4.5,4.5 0 1,0 -9.00,0a4.5,4.5 0 1,0 9.00,0M367.2,37.1a4.5,4.5 0 1,0 -9.00,0a4.5,4.5 0 1,0 9.00,0M368.9,36.6a4.5,4.5 0 1,0 -9.00,0a4.5,4.5 0 1,0 9.00,0M370.5,36.1a4.5,4.5 0 1,0 -9.00,0a4.5,4.5 0 1,0 9.00,0M372.1,35.6a4.5,4.5 0 1,0 -9.00,0a4.5,4.5 0 1,0 9.00,0M373.8,35.2a4.5,4.5 0 1,0 -9.00,0a4.5,4.5 0 1,0 9.00,0M375.4,34.9a4.5,4.5 0 1,0 -9.00,0a4.5,4.5 0 1,0 9.00,0M377.1,34.5a4.5,4.5 0 1,0 -9.00,0a4.5,4.5 0 1,0 9.00,0M378.7,34.2a4.5,4.5 0 1,0 -9.00,0a4.5,4.5 0 1,0 9.00,0M380.3,33.9a4.5,4.5 0 1,0 -9.00,0a4.5,4.5 0 1,0 9.00,0M382.0,33.6a4.5,4.5 0 1,0 -9.00,0a4.5,4.5 0 1,0 9.00,0M383.6,33.3a4.5,4.5 0 1,0 -9.00,0a4.5,4.5 0 1,0 9.00,0M385.3,33.0a4.5,4.5 0 1,0 -9.00,0a4.5,4.5 0 1,0 9.00,0M386.9,32.7a4.5,4.5 0 1,0 -9.00,0a4.5,4.5 0 1,0 9.00,0M388.5,32.5a4.5,4.5 0 1,0 -9.00,0a4.5,4.5 0 1,0 9.00,0M390.2,32.2a4.5,4.5 0 1,0 -9.00,0a4.5,4.5 0 1,0 9.00,0M391.8,32.0a4.5,4.5 0 1,0 -9.00,0a4.5,4.5 0 1,0 9.00,0M393.5,31.7a4.5,4.5 0 1,0 -9.00,0a4.5,4.5 0 1,0 9.00,0M395.1,31.5a4.5,4.5 0 1,0 -9.00,0a4.5,4.5 0 1,0 9.00,0M396.7,31.3a4.5,4.5 0 1,0 -9.00,0a4.5,4.5 0 1,0 9.00,0M398.4,31.1a4.5,4.5 0 1,0 -9.00,0a4.5,4.5 0 1,0 9.00,0M400.0,30.9a4.5,4.5 0 1,0 -9.00,0a4.5,4.5 0 1,0 9.00,0M401.7,30.7a4.5,4.5 0 1,0 -9.00,0a4.5,4.5 0 1,0 9.00,0M403.3,30.5a4.5,4.5 0 1,0 -9.00,0a4.5,4.5 0 1,0 9.00,0M404.9,30.4a4.5,4.5 0 1,0 -9.00,0a4.5,4.5 0 1,0 9.00,0M406.6,30.2a4.5,4.5 0 1,0 -9.00,0a4.5,4.5 0 1,0 9.00,0M408.2,30.1a4.5,4.5 0 1,0 -9.00,0a4.5,4.5 0 1,0 9.00,0M409.9,30.0a4.5,4.5 0 1,0 -9.00,0a4.5,4.5 0 1,0 9.00,0M411.5,29.9a4.5,4.5 0 1,0 -9.00,0a4.5,4.5 0 1,0 9.00,0M413.1,29.8a4.5,4.5 0 1,0 -9.00,0a4.5,4.5 0 1,0 9.00,0M414.8,29.7a4.5,4.5 0 1,0 -9.00,0a4.5,4.5 0 1,0 9.00,0M416.4,29.6a4.5,4.5 0 1,0 -9.00,0a4.5,4.5 0 1,0 9.00,0M418.1,29.4a4.5,4.5 0 1,0 -9.00,0a4.5,4.5 0 1,0 9.00,0M419.7,29.3a4.5,4.5 0 1,0 -9.00,0a4.5,4.5 0 1,0 9.00,0M421.3,29.2a4.5,4.5 0 1,0 -9.00,0a4.5,4.5 0 1,0 9.00,0M423.0,29.1a4.5,4.5 0 1,0 -9.00,0a4.5,4.5 0 1,0 9.00,0M424.6,29.1a4.5,4.5 0 1,0 -9.00,0a4.5,4.5 0 1,0 9.00,0M426.3,29.0a4.5,4.5 0 1,0 -9.00,0a4.5,4.5 0 1,0 9.00,0M427.9,28.9a4.5,4.5 0 1,0 -9.00,0a4.5,4.5 0 1,0 9.00,0M429.5,28.8a4.5,4.5 0 1,0 -9.00,0a4.5,4.5 0 1,0 9.00,0M431.2,28.7a4.5,4.5 0 1,0 -9.00,0a4.5,4.5 0 1,0 9.00,0M432.8,28.6a4.5,4.5 0 1,0 -9.00,0a4.5,4.5 0 1,0 9.00,0M434.5,28.5a4.5,4.5 0 1,0 -9.00,0a4.5,4.5 0 1,0 9.00,0M436.1,28.4a4.5,4.5 0 1,0 -9.00,0a4.5,4.5 0 1,0 9.00,0M437.7,28.3a4.5,4.5 0 1,0 -9.00,0a4.5,4.5 0 1,0 9.00,0M439.4,28.2a4.5,4.5 0 1,0 -9.00,0a4.5,4.5 0 1,0 9.00,0M441.0,28.2a4.5,4.5 0 1,0 -9.00,0a4.5,4.5 0 1,0 9.00,0M442.7,28.1a4.5,4.5 0 1,0 -9.00,0a4.5,4.5 0 1,0 9.00,0M444.3,28.0a4.5,4.5 0 1,0 -9.00,0a4.5,4.5 0 1,0 9.00,0M445.9,27.9a4.5,4.5 0 1,0 -9.00,0a4.5,4.5 0 1,0 9.00,0M447.6,27.8a4.5,4.5 0 1,0 -9.00,0a4.5,4.5 0 1,0 9.00,0M449.2,27.8a4.5,4.5 0 1,0 -9.00,0a4.5,4.5 0 1,0 9.00,0M450.9,27.7a4.5,4.5 0 1,0 -9.00,0a4.5,4.5 0 1,0 9.00,0M452.5,27.6a4.5,4.5 0 1,0 -9.00,0a4.5,4.5 0 1,0 9.00,0M454.1,27.6a4.5,4.5 0 1,0 -9.00,0a4.5,4.5 0 1,0 9.00,0M455.8,27.5a4.5,4.5 0 1,0 -9.00,0a4.5,4.5 0 1,0 9.00,0M457.4,27.4a4.5,4.5 0 1,0 -9.00,0a4.5,4.5 0 1,0 9.00,0M459.1,27.4a4.5,4.5 0 1,0 -9.00,0a4.5,4.5 0 1,0 9.00,0M460.7,27.3a4.5,4.5 0 1,0 -9.00,0a4.5,4.5 0 1,0 9.00,0M462.3,27.3a4.5,4.5 0 1,0 -9.00,0a4.5,4.5 0 1,0 9.00,0M464.0,27.2a4.5,4.5 0 1,0 -9.00,0a4.5,4.5 0 1,0 9.00,0M465.6,27.2a4.5,4.5 0 1,0 -9.00,0a4.5,4.5 0 1,0 9.00,0M467.3,27.1a4.5,4.5 0 1,0 -9.00,0a4.5,4.5 0 1,0 9.00,0M468.9,27.1a4.5,4.5 0 1,0 -9.00,0a4.5,4.5 0 1,0 9.00,0M470.5,27.0a4.5,4.5 0 1,0 -9.00,0a4.5,4.5 0 1,0 9.00,0M472.2,27.0a4.5,4.5 0 1,0 -9.00,0a4.5,4.5 0 1,0 9.00,0M473.8,27.0a4.5,4.5 0 1,0 -9.00,0a4.5,4.5 0 1,0 9.00,0M475.5,26.9a4.5,4.5 0 1,0 -9.00,0a4.5,4.5 0 1,0 9.00,0M477.1,26.9a4.5,4.5 0 1,0 -9.00,0a4.5,4.5 0 1,0 9.00,0M478.7,26.9a4.5,4.5 0 1,0 -9.00,0a4.5,4.5 0 1,0 9.00,0M480.4,26.8a4.5,4.5 0 1,0 -9.00,0a4.5,4.5 0 1,0 9.00,0M482.0,26.8a4.5,4.5 0 1,0 -9.00,0a4.5,4.5 0 1,0 9.00,0M483.7,26.8a4.5,4.5 0 1,0 -9.00,0a4.5,4.5 0 1,0 9.00,0M485.3,26.8a4.5,4.5 0 1,0 -9.00,0a4.5,4.5 0 1,0 9.00,0M486.9,26.8a4.5,4.5 0 1,0 -9.00,0a4.5,4.5 0 1,0 9.00,0M488.6,26.7a4.5,4.5 0 1,0 -9.00,0a4.5,4.5 0 1,0 9.00,0M490.2,26.7a4.5,4.5 0 1,0 -9.00,0a4.5,4.5 0 1,0 9.00,0M491.9,26.7a4.5,4.5 0 1,0 -9.00,0a4.5,4.5 0 1,0 9.00,0M493.5,26.7a4.5,4.5 0 1,0 -9.00,0a4.5,4.5 0 1,0 9.00,0" fill="none" stroke="#ff0000" stroke-width="2.4"/>
<path d="M331.1,64.1a4.5,4.5 0 1,0 -9.00,0a4.5,4.5 0 1,0 9.00,0M332.8,62.3a4.5,4.5 0 1,0 -9.00,0a4.5,4.5 0 1,0 9.00,0M334.4,60.6a4.5,4.5 0 1,0 -9.00,0a4.5,4.5 0 1,0 9.00,0M336.1,59.2a4.5,4.5 0 1,0 -9.00,0a4.5,4.5 0 1,0 9.00,0M337.7,57.8a4.5,4.5 0 1,0 -9.00,0a4.5,4.5 0 1,0 9.00,0M339.3,56.5a4.5,4.5 0 1,0 -9.00,0a4.5,4.5 0 1,0 9.00,0M341.0,55.3a4.5,4.5 0 1,0 -9.00,0a4.5,4.5 0 1,0 9.00,0M342.6,54.2a4.5,4.5 0 1,0 -9.00,0a4.5,4.5 0 1,0 9.00,0M344.3,53.1a4.5,4.5 0 1,0 -9.00,0a4.5,4.5 0 1,0 9.00,0M345.9,52.1a4.5,4.5 0 1,0 -9.00,0a4.5,4.5 0 1,0 9.00,0M347.5,51.1a4.5,4.5 0 1,0 -9.00,0a4.5,4.5 0 1,0 9.00,0M349.2,50.1a4.5,4.5 0 1,0 -9.00,0a4.5,4.5 0 1,0 9.00,0M350.8,49.1a4.5,4.5 0 1,0 -9.00,0a4.5,4.5 0 1,0 9.00,0M352.5,48.2a4.5,4.5 0 1,0 -9.00,0a4.5,4.5 0 1,0 9.00,0M354.1,47.2a4.5,4.5 0 1,0 -9.00,0a4.5,4.5 0 1,0 9.00,0M355.7,46.2a4.5,4.5 0 1,0 -9.00,0a4.5,4.5 0 1,0 9.00,0M357.4,45.2a4.5,4.5 0 1,0 -9.00,0a4.5,4.5 0 1,0 9.00,0M359.0,44.2a4.5,4.5 0 1,0 -9.00,0a4.5,4.5 0 1,0 9.00,0M360.7,43.2a4.5,4.5 0 1,0 -9.00,0a4.5,4.5 0 1,0 9.00,0M362.3,42.2a4.5,4.5 0 1,0 -9.00,0a4.5,4.5 0 1,0 9.00,0M363.9,41.2a4.5,4.5 0 1,0 -9.00,0a4.5,4.5 0 1,0 9.00,0M365.6,40.3a4.5,4.5 0 1,0 -9.00,0a4.5,4.5 0 1,0 9.00,0M367.2,39.4a4.5,4.5 0 1,0 -9.00,0a4.5,4.5 0 1,0 9.00,0M368.9,38.5a4.5,4.5 0 1,0 -9.00,0a4.5,4.5 0 1,0 9.00,0M370.5,37.7a4.5,4.5 0 1,0 -9.00,0a4.5,4.5 0 1,0 9.00,0M372.1,37.1a4.5,4.5 0 1,0 -9.00,0a4.5,4.5 0 1,0 9.00,0M373.8,36.5a4.5,4.5 0 1,0 -9.00,0a4.5,4.5 0 1,0 9.00,0M375.4,36.0a4.5,4.5 0 1,0 -9.00,0a4.5,4.5 0 1,0 9.00,0M377.1,35.5a4.5,4.5 0 1,0 -9.00,0a4.5,4.5 0 1,0 9.00,0M378.7,35.0a4.5,4.5 0 1,0 -9.00,0a4.5,4.5 0 1,0 9.00,0M380.3,34.6a4.5,4.5 0 1,0 -9.00,0a4.5,4.5 0 1,0 9.00,0M382.0,34.2a4.5,4.5 0 1,0 -9.00,0a4.5,4.5 0 1,0 9.00,0M383.6,33.8a4.5,4.5 0 1,0 -9.00,0a4.5,4.5 0 1,0 9.00,0M385.3,33.4a4.5,4.5 0 1,0 -9.00,0a4.5,4.5 0 1,0 9.00,0M386.9,33.0a4.5,4.5 0 1,0 -9.00,0a4.5,4.5 0 1,0 9.00,0M388.5,32.7a4.5,4.5 0 1,0 -9.00,0a4.5,4.5 0 1,0 9.00,0M390.2,32.3a4.5,4.5 0 1,0 -9.00,0a4.5,4.5 0 1,0 9.00,0M391.8,32.0a4.5,4.5 0 1,0 -9.00,0a4.5,4.5 0 1,0 9.00,0M393.5,31.7a4.5,4.5 0 1,0 -9.00,0a4.5,4.5 0 1,0 9.00,0M395.1,31.4a4.5,4.5 0 1,0 -9.00,0a4.5,4.5 0 1,0 9.00,0M396.7,31.2a4.5,4.5 0 1,0 -9.00,0a4.5,4.5 0 1,0 9.00,0M398.4,30.9a4.5,4.5 0 1,0 -9.00,0a4.5,4.5 0 1,0 9.00,0M400.0,30.7a4.5,4.5 0 1,0 -9.00,0a4.5,4.5 0 1,0 9.00,0M401.7,30.5a4.5,4.5 0 1,0 -9.00,0a4.5,4.5 0 1,0 9.00,0M403.3,30.2a4.5,4.5 0 1,0 -9.00,0a4.5,4.5 0 1,0 9.00,0M404.9,30.0a4.5,4.5 0 1,0 -9.00,0a4.5,4.5 0 1,0 9.00,0M406.6,29.9a4.5,4.5 0 1,0 -9.00,0a4.5,4.5 0 1,0 9.00,0M408.2,29.7a4.5,4.5 0 1,0 -9.00,0a4.5,4.5 0 1,0 9.00,0M409.9,29.5a4.5,4.5 0 1,0 -9.00,0a4.5,4.5 0 1,0 9.00,0M411.5,29.3a4.5,4.5 0 1,0 -9.00,0a4.5,4.5 0 1,0 9.00,0M413.1,29.2a4.5,4.5 0 1,0 -9.00,0a4.5,4.5 0 1,0 9.00,0M414.8,29.0a4.5,4.5 0 1,0 -9.00,0a4.5,4.5 0 1,0 9.00,0M416.4,28.8a4.5,4.5 0 1,0 -9.00,0a4.5,4.5 0 1,0 9.00,0M418.1,28.7a4.5,4.5 0 1,0 -9.00,0a4.5,4.5 0 1,0 9.00,0M419.7,28.5a4.5,4.5 0 1,0 -9.00,0a4.5,4.5 0 1,0 9.00,0M421.3,28.4a4.5,4.5 0 1,0 -9.00,0a4.5,4.5 0 1,0 9.00,0M423.0,28.3a4.5,4.5 0 1,0 -9.00,0a4.5,4.5 0 1,0 9.00,0M424.6,28.1a4.5,4.5 0 1,0 -9.00,0a4.5,4.5 0 1,0 9.00,0M426.3,28.0a4.5,4.5 0 1,0 -9.00,0a4.5,4.5 0 1,0 9.00,0M427.9,27.9a4.5,4.5 0 1,0 -9.00,0a4.5,4.5 0 1,0 9.00,0M429.5,27.7a4.5,4.5 0 1,0 -9.00,0a4.5,4.5 0 1,0 9.00,0M431.2,27.6a4.5,4.5 0 1,0 -9.00,0a4.5,4.5 0 1,0 9.00,0M432.8,27.5a4.5,4.5 0 1,0 -9.00,0a4.5,4.5 0 1,0 9.00,0M434.5,27.4a4.5,4.5 0 1,0 -9.00,0a4.5,4.5 0 1,0 9.00,0M436.1,27.3a4.5,4.5 0 1,0 -9.00,0a4.5,4.5 0 1,0 9.00,0M437.7,27.2a4.5,4.5 0 1,0 -9.00,0a4.5,4.5 0 1,0 9.00,0M439.4,27.1a4.5,4.5 0 1,0 -9.00,0a4.5,4.5 0 1,0 9.00,0M441.0,27.0a4.5,4.5 0 1,0 -9.00,0a4.5,4.5 0 1,0 9.00,0M442.7,27.0a4.5,4.5 0 1,0 -9.00,0a4.5,4.5 0 1,0 9.00,0M444.3,26.9a4.5,4.5 0 1,0 -9.00,0a4.5,4.5 0 1,0 9.00,0M445.9,26.8a4.5,4.5 0 1,0 -9.00,0a4.5,4.5 0 1,0 9.00,0M447.6,26.7a4.5,4.5 0 1,0 -9.00,0a4.5,4.5 0 1,0 9.00,0M449.2,26.7a4.5,4.5 0 1,0 -9.00,0a4.5,4.5 0 1,0 9.00,0M450.9,26.6a4.5,4.5 0 1,0 -9.00,0a4.5,4.5 0 1,0 9.00,0M452.5,26.6a4.5,4.5 0 1,0 -9.00,0a4.5,4.5 0 1,0 9.00,0M454.1,26.5a4.5,4.5 0 1,0 -9.00,0a4.5,4.5 0 1,0 9.00,0M455.8,26.5a4.5,4.5 0 1,0 -9.00,0a4.5,4.5 0 1,0 9.00,0M457.4,26.4a4.5,4.5 0 1,0 -9.00,0a4.5,4.5 0 1,0 9.00,0M459.1,26.4a4.5,4.5 0 1,0 -9.00,0a4.5,4.5 0 1,0 9.00,0M460.7,26.3a4.5,4.5 0 1,0 -9.00,0a4.5,4.5 0 1,0 9.00,0M462.3,26.3a4.5,4.5 0 1,0 -9.00,0a4.5,4.5 0 1,0 9.00,0M464.0,26.3a4.5,4.5 0 1,0 -9.00,0a4.5,4.5 0 1,0 9.00,0M465.6,26.3a4.5,4.5 0 1,0 -9.00,0a4.5,4.5 0 1,0 9.00,0M467.3,26.3a4.5,4.5 0 1,0 -9.00,0a4.5,4.5 0 1,0 9.00,0M468.9,26.2a4.5,4.5 0 1,0 -9.00,0a4.5,4.5 0 1,0 9.00,0M470.5,26.2a4.5,4.5 0 1,0 -9.00,0a4.5,4.5 0 1,0 9.00,0M472.2,26.2a4.5,4.5 0 1,0 -9.00,0a4.5,4.5 0 1,0 9.00,0M473.8,26.2a4.5,4.5 0 1,0 -9.00,0a4.5,4.5 0 1,0 9.00,0M475.5,26.2a4.5,4.5 0 1,0 -9.00,0a4.5,4.5 0 1,0 9.00,0M477.1,26.2a4.5,4.5 0 1,0 -9.00,0a4.5,4.5 0 1,0 9.00,0M478.7,26.2a4.5,4.5 0 1,0 -9.00,0a4.5,4.5 0 1,0 9.00,0M480.4,26.2a4.5,4.5 0 1,0 -9.00,0a4.5,4.5 0 1,0 9.00,0M482.0,26.3a4.5,4.5 0 1,0 -9.00,0a4.5,4.5 0 1,0 9.00,0M483.7,26.3a4.5,4.5 0 1,0 -9.00,0a4.5,4.5 0 1,0 9.00,0M485.3,26.3a4.5,4.5 0 1,0 -9.00,0a4.5,4.5 0 1,0 9.00,0M486.9,26.3a4.5,4.5 0 1,0 -9.00,0a4.5,4.5 0 1,0 9.00,0M488.6,26.4a4.5,4.5 0 1,0 -9.00,0a4.5,4.5 0 1,0 9.00,0M490.2,26.4a4.5,4.5 0 1,0 -9.00,0a4.5,4.5 0 1,0 9.00,0M491.9,26.4a4.5,4.5 0 1,0 -9.00,0a4.5,4.5 0 1,0 9.00,0M493.5,26.5a4.5,4.5 0 1,0 -9.00,0a4.5,4.5 0 1,0 9.00,0M331.1,64.2a4.5,4.5 0 1,0 -9.00,0a4.5,4.5 0 1,0 9.00,0M332.8,62.4a4.5,4.5 0 1,0 -9.00,0a4.5,4.5 0 1,0 9.00,0M334.4,60.8a4.5,4.5 0 1,0 -9.00,0a4.5,4.5 0 1,0 9.00,0M336.1,59.4a4.5,4.5 0 1,0 -9.00,0a4.5,4.5 0 1,0 9.00,0M337.7,58.2a4.5,4.5 0 1,0 -9.00,0a4.5,4.5 0 1,0 9.00,0M339.3,57.0a4.5,4.5 0 1,0 -9.00,0a4.5,4.5 0 1,0 9.00,0M341.0,55.9a4.5,4.5 0 1,0 -9.00,0a4.5,4.5 0 1,0 9.00,0M342.6,54.8a4.5,4.5 0 1,0 -9.00,0a4.5,4.5 0 1,0 9.00,0M344.3,53.9a4.5,4.5 0 1,0 -9.00,0a4.5,4.5 0 1,0 9.00,0M345.9,52.9a4.5,4.5 0 1,0 -9.00,0a4.5,4.5 0 1,0 9.00,0M347.5,52.1a4.5,4.5 0 1,0 -9.00,0a4.5,4.5 0 1,0 9.00,0M349.2,51.2a4.5,4.5 0 1,0 -9.00,0a4.5,4.5 0 1,0 9.00,0M350.8,50.4a4.5,4.5 0 1,0 -9.00,0a4.5,4.5 0 1,0 9.00,0M352.5,49.5a4.5,4.5 0 1,0 -9.00,0a4.5,4.5 0 1,0 9.00,0M354.1,48.7a4.5,4.5 0 1,0 -9.00,0a4.5,4.5 0 1,0 9.00,0M355.7,47.9a4.5,4.5 0 1,0 -9.00,0a4.5,4.5 0 1,0 9.00,0M357.4,47.1a4.5,4.5 0 1,0 -9.00,0a4.5,4.5 0 1,0 9.00,0M359.0,46.3a4.5,4.5 0 1,0 -9.00,0a4.5,4.5 0 1,0 9.00,0M360.7,45.5a4.5,4.5 0 1,0 -9.00,0a4.5,4.5 0 1,0 9.00,0M362.3,44.7a4.5,4.5 0 1,0 -9.00,0a4.5,4.5 0 1,0 9.00,0M363.9,44.0a4.5,4.5 0 1,0 -9.00,0a4.5,4.5 0 1,0 9.00,0M365.6,43.3a4.5,4.5 0 1,0 -9.00,0a4.5,4.5 0 1,0 9.00,0M367.2,42.6a4.5,4.5 0 1,0 -9.00,0a4.5,4.5 0 1,0 9.00,0M368.9,42.0a4.5,4.5 0 1,0 -9.00,0a4.5,4.5 0 1,0 9.00,0M370.5,41.4a4.5,4.5 0 1,0 -9.00,0a4.5,4.5 0 1,0 9.00,0M372.1,40.9a4.5,4.5 0 1,0 -9.00,0a4.5,4.5 0 1,0 9.00,0M373.8,40.4a4.5,4.5 0 1,0 -9.00,0a4.5,4.5 0 1,0 9.00,0M375.4,39.9a4.5,4.5 0 1,0 -9.00,0a4.5,4.5 0 1,0 9.00,0M377.1,39.5a4.5,4.5 0 1,0 -9.00,0a4.5,4.5 0 1,0 9.00,0M378.7,39.0a4.5,4.5 0 1,0 -9.00,0a4.5,4.5 0 1,0 9.00,0M380.3,38.6a4.5,4.5 0 1,0 -9.00,0a4.5,4.5 0 1,0 9.00,0M382.0,38.2a4.5,4.5 0 1,0 -9.00,0a4.5,4.5 0 1,0 9.00,0M383.6,37.8a4.5,4.5 0 1,0 -9.00,0a4.5,4.5 0 1,0 9.00,0M385.3,37.5a4.5,4.5 0 1,0 -9.00,0a4.5,4.5 0 1,0 9.00,0M386.9,37.1a4.5,4.5 0 1,0 -9.00,0a4.5,4.5 0 1,0 9.00,0M388.5,36.8a4.5,4.5 0 1,0 -9.00,0a4.5,4.5 0 1,0 9.00,0M390.2,36.5a4.5,4.5 0 1,0 -9.00,0a4.5,4.5 0 1,0 9.00,0M391.8,36.2a4.5,4.5 0 1,0 -9.00,0a4.5,4.5 0 1,0 9.00,0M393.5,35.9a4.5,4.5 0 1,0 -9.00,0a4.5,4.5 0 1,0 9.00,0M395.1,35.6a4.5,4.5 0 1,0 -9.00,0a4.5,4.5 0 1,0 9.00,0M396.7,35.3a4.5,4.5 0 1,0 -9.00,0a4.5,4.5 0 1,0 9.00,0M398.4,35.1a4.5,4.5 0 1,0 -9.00,0a4.5,4.5 0 1,0 9.00,0M400.0,34.8a4.5,4.5 0 1,0 -9.00,0a4.5,4.5 0 1,0 9.00,0M401.7,34.6a4.5,4.5 0 1,0 -9.00,0a4.5,4.5 0 1,0 9.00,0M403.3,34.4a4.5,4.5 0 1,0 -9.00,0a4.5,4.5 0 1,0 9.00,0M404.9,34.2a4.5,4.5 0 1,0 -9.00,0a4.5,4.5 0 1,0 9.00,0M406.6,34.0a4.5,4.5 0 1,0 -9.00,0a4.5,4.5 0 1,0 9.00,0M408.2,33.8a4.5,4.5 0 1,0 -9.00,0a4.5,4.5 0 1,0 9.00,0M409.9,33.7a4.5,4.5 0 1,0 -9.00,0a4.5,4.5 0 1,0 9.00,0M411.5,33.5a4.5,4.5 0 1,0 -9.00,0a4.5,4.5 0 1,0 9.00,0M413.1,33.3a4.5,4.5 0 1,0 -9.00,0a4.5,4.5 0 1,0 9.00,0M414.8,33.1a4.5,4.5 0 1,0 -9.00,0a4.5,4.5 0 1,0 9.00,0M416.4,32.9a4.5,4.5 0 1,0 -9.00,0a4.5,4.5 0 1,0 9.00,0M418.1,32.7a4.5,4.5 0 1,0 -9.00,0a4.5,4.5 0 1,0 9.00,0M419.7,32.6a4.5,4.5 0 1,0 -9.00,0a4.5,4.5 0 1,0 9.00,0M421.3,32.4a4.5,4.5 0 1,0 -9.00,0a4.5,4.5 0 1,0 9.00,0M423.0,32.2a4.5,4.5 0 1,0 -9.00,0a4.5,4.5 0 1,0 9.00,0M424.6,32.0a4.5,4.5 0 1,0 -9.00,0a4.5,4.5 0 1,0 9.00,0M426.3,31.9a4.5,4.5 0 1,0 -9.00,0a4.5,4.5 0 1,0 9.00,0M427.9,31.7a4.5,4.5 0 1,0 -9.00,0a4.5,4.5 0 1,0 9.00,0M429.5,31.5a4.5,4.5 0 1,0 -9.00,0a4.5,4.5 0 1,0 9.00,0M431.2,31.4a4.5,4.5 0 1,0 -9.00,0a4.5,4.5 0 1,0 9.00,0M432.8,31.2a4.5,4.5 0 1,0 -9.00,0a4.5,4.5 0 1,0 9.00,0M434.5,31.1a4.5,4.5 0 1,0 -9.00,0a4.5,4.5 0 1,0 9.00,0M436.1,30.9a4.5,4.5 0 1,0 -9.00,0a4.5,4.5 0 1,0 9.00,0M437.7,30.8a4.5,4.5 0 1,0 -9.00,0a4.5,4.5 0 1,0 9.00,0M439.4,30.6a4.5,4.5 0 1,0 -9.00,0a4.5,4.5 0 1,0 9.00,0M441.0,30.5a4.5,4.5 0 1,0 -9.00,0a4.5,4.5 0 1,0 9.00,0M442.7,30.3a4.5,4.5 0 1,0 -9.00,0a4.5,4.5 0 1,0 9.00,0M444.3,30.2a4.5,4.5 0 1,0 -9.00,0a4.5,4.5 0 1,0 9.00,0M445.9,30.1a4.5,4.5 0 1,0 -9.00,0a4.5,4.5 0 1,0 9.00,0M447.6,30.0a4.5,4.5 0 1,0 -9.00,0a4.5,4.5 0 1,0 9.00,0M449.2,29.8a4.5,4.5 0 1,0 -9.00,0a4.5,4.5 0 1,0 9.00,0M450.9,29.7a4.5,4.5 0 1,0 -9.00,0a4.5,4.5 0 1,0 9.00,0M452.5,29.6a4.5,4.5 0 1,0 -9.00,0a4.5,4.5 0 1,0 9.00,0M454.1,29.5a4.5,4.5 0 1,0 -9.00,0a4.5,4.5 0 1,0 9.00,0M455.8,29.4a4.5,4.5 0 1,0 -9.00,0a4.5,4.5 0 1,0 9.00,0M457.4,29.3a4.5,4.5 0 1,0 -9.00,0a4.5,4.5 0 1,0 9.00,0M459.1,29.2a4.5,4.5 0 1,0 -9.00,0a4.5,4.5 0 1,0 9.00,0M460.7,29.1a4.5,4.5 0 1,0 -9.00,0a4.5,4.5 0 1,0 9.00,0M462.3,29.0a4.5,4.5 0 1,0 -9.00,0a4.5,4.5 0 1,0 9.00,0M464.0,28.9a4.5,4.5 0 1,0 -9.00,0a4.5,4.5 0 1,0 9.00,0M465.6,28.8a4.5,4.5 0 1,0 -9.00,0a4.5,4.5 0 1,0 9.00,0M467.3,28.8a4.5,4.5 0 1,0 -9.00,0a4.5,4.5 0 1,0 9.00,0M468.9,28.7a4.5,4.5 0 1,0 -9.00,0a4.5,4.5 0 1,0 9.00,0M470.5,28.6a4.5,4.5 0 1,0 -9.00,0a4.5,4.5 0 1,0 9.00,0M472.2,28.5a4.5,4.5 0 1,0 -9.00,0a4.5,4.5 0 1,0 9.00,0M473.8,28.4a4.5,4.5 0 1,0 -9.00,0a4.5,4.5 0 1,0 9.00,0M475.5,28.3a4.5,4.5 0 1,0 -9.00,0a4.5,4.5 0 1,0 9.00,0M477.1,28.2a4.5,4.5 0 1,0 -9.00,0a4.5,4.5 0 1,0 9.00,0M478.7,28.2a4.5,4.5 0 1,0 -9.00,0a4.5,4.5 0 1,0 9.00,0M480.4,28.1a4.5,4.5 0 1,0 -9.00,0a4.5,4.5 0 1,0 9.00,0M482.0,28.0a4.5,4.5 0 1,0 -9.00,0a4.5,4.5 0 1,0 9.00,0M483.7,27.9a4.5,4.5 0 1,0 -9.00,0a4.5,4.5 0 1,0 9.00,0M485.3,27.8a4.5,4.5 0 1,0 -9.00,0a4.5,4.5 0 1,0 9.00,0M486.9,27.8a4.5,4.5 0 1,0 -9.00,0a4.5,4.5 0 1,0 9.00,0M488.6,27.7a4.5,4.5 0 1,0 -9.00,0a4.5,4.5 0 1,0 9.00,0M490.2,27.6a4.5,4.5 0 1,0 -9.00,0a4.5,4.5 0 1,0 9.00,0M491.9,27.6a4.5,4.5 0 1,0 -9.00,0a4.5,4.5 0 1,0 9.00,0M493.5,27.5a4.5,4.5 0 1,0 -9.00,0a4.5,4.5 0 1,0 9.00,0M99.9,262.1a4.5,4.5 0 1,0 -9.00,0a4.5,4.5 0 1,0 9.00,0M101.5,261.8a4.5,4.5 0 1,0 -9.00,0a4.5,4.5 0 1,0 9.00,0M103.2,261.6a4.5,4.5 0 1,0 -9.00,0a4.5,4.5 0 1,0 9.00,0M104.8,261.4a4.5,4.5 0 1,0 -9.00,0a4.5,4.5 0 1,0 9.00,0M106.5,261.1a4.5,4.5 0 1,0 -9.00,0a4.5,4.5 0 1,0 9.00,0M108.1,260.9a4.5,4.5 0 1,0 -9.00,0a4.5,4.5 0 1,0 9.00,0M109.7,260.7a4.5,4.5 0 1,0 -9.00,0a4.5,4.5 0 1,0 9.00,0M111.4,260.4a4.5,4.5 0 1,0 -9.00,0a4.5,4.5 0 1,0 9.00,0M113.0,260.2a4.5,4.5 0 1,0 -9.00,0a4.5,4.5 0 1,0 9.00,0M114.7,260.0a4.5,4.5 0 1,0 -9.00,0a4.5,4.5 0 1,0 9.00,0M116.3,259.7a4.5,4.5 0 1,0 -9.00,0a4.5,4.5 0 1,0 9.00,0M117.9,259.5a4.5,4.5 0 1,0 -9.00,0a4.5,4.5 0 1,0 9.00,0M119.6,259.3a4.5,4.5 0 1,0 -9.00,0a4.5,4.5 0 1,0 9.00,0M121.2,259.1a4.5,4.5 0 1,0 -9.00,0a4.5,4.5 0 1,0 9.00,0M122.9,258.9a4.5,4.5 0 1,0 -9.00,0a4.5,4.5 0 1,0 9.00,0M124.5,258.7a4.5,4.5 0 1,0 -9.00,0a4.5,4.5 0 1,0 9.00,0M126.1,258.4a4.5,4.5 0 1,0 -9.00,0a4.5,4.5 0 1,0 9.00,0M127.8,258.2a4.5,4.5 0 1,0 -9.00,0a4.5,4.5 0 1,0 9.00,0M129.4,258.0a4.5,4.5 0 1,0 -9.00,0a4.5,4.5 0 1,0 9.00,0M131.1,257.8a4.5,4.5 0 1,0 -9.00,0a4.5,4.5 0 1,0 9.00,0M132.7,257.6a4.5,4.5 0 1,0 -9.00,0a4.5,4.5 0 1,0 9.00,0M134.3,257.4a4.5,4.5 0 1,0 -9.00,0a4.5,4.5 0 1,0 9.00,0M136.0,257.2a4.5,4.5 0 1,0 -9.00,0a4.5,4.5 0 1,0 9.00,0M137.6,257.0a4.5,4.5 0 1,0 -9.00,0a4.5,4.5 0 1,0 9.00,0M139.3,256.8a4.5,4.5 0 1,0 -9.00,0a4.5,4.5 0 1,0 9.00,0M140.9,256.7a4.5,4.5 0 1,0 -9.00,0a4.5,4.5 0 1,0 9.00,0M142.5,256.5a4.5,4.5 0 1,0 -9.00,0a4.5,4.5 0 1,0 9.00,0M144.2,256.3a4.5,4.5 0 1,0 -9.00,0a4.5,4.5 0 1,0 9.00,0M145.8,256.1a4.5,4.5 0 1,0 -9.00,0a4.5,4.5 0 1,0 9.00,0M147.5,256.0a4.5,4.5 0 1,0 -9.00,0a4.5,4.5 0 1,0 9.00,0M149.1,255.8a4.5,4.5 0 1,0 -9.00,0a4.5,4.5 0 1,0 9.00,0M150.7,255.6a4.5,4.5 0 1,0 -9.00,0a4.5,4.5 0 1,0 9.00,0M152.4,255.4a4.5,4.5 0 1,0 -9.00,0a4.5,4.5 0 1,0 9.00,0M154.0,255.3a4.5,4.5 0 1,0 -9.00,0a4.5,4.5 0 1,0 9.00,0M155.7,255.1a4.5,4.5 0 1,0 -9.00,0a4.5,4.5 0 1,0 9.00,0M157.3,254.9a4.5,4.5 0 1,0 -9.00,0a4.5,4.5 0 1,0 9.00,0M158.9,254.7a4.5,4.5 0 1,0 -9.00,0a4.5,4.5 0 1,0 9.00,0M160.6,254.5a4.5,4.5 0 1,0 -9.00,0a4.5,4.5 0 1,0 9.00,0M162.2,254.3a4.5,4.5 0 1,0 -9.00,0a4.5,4.5 0 1,0 9.00,0M163.9,254.1a4.5,4.5 0 1,0 -9.00,0a4.5,4.5 0 1,0 9.00,0M165.5,253.8a4.5,4.5 0 1,0 -9.00,0a4.5,4.5 0 1,0 9.00,0M167.1,253.6a4.5,4.5 0 1,0 -9.00,0a4.5,4.5 0 1,0 9.00,0M168.8,253.4a4.5,4.5 0 1,0 -9.00,0a4.5,4.5 0 1,0 9.00,0M170.4,253.1a4.5,4.5 0 1,0 -9.00,0a4.5,4.5 0 1,0 9.00,0M172.1,252.9a4.5,4.5 0 1,0 -9.00,0a4.5,4.5 0 1,0 9.00,0M173.7,252.6a4.5,4.5 0 1,0 -9.00,0a4.5,4.5 0 1,0 9.00,0M175.3,252.4a4.5,4.5 0 1,0 -9.00,0a4.5,4.5 0 1,0 9.00,0M177.0,252.1a4.5,4.5 0 1,0 -9.00,0a4.5,4.5 0 1,0 9.00,0M178.6,251.8a4.5,4.5 0 1,0 -9.00,0a4.5,4.5 0 1,0 9.00,0M180.3,251.5a4.5,4.5 0 1,0 -9.00,0a4.5,4.5 0 1,0 9.00,0M181.9,251.2a4.5,4.5 0 1,0 -9.00,0a4.5,4.5 0 1,0 9.00,0M183.5,250.9a4.5,4.5 0 1,0 -9.00,0a4.5,4.5 0 1,0 9.00,0M185.2,250.6a4.5,4.5 0 1,0 -9.00,0a4.5,4.5 0 1,0 9.00,0M186.8,250.3a4.5,4.5 0 1,0 -9.00,0a4.5,4.5 0 1,0 9.00,0M188.5,249.9a4.5,4.5 0 1,0 -9.00,0a4.5,4.5 0 1,0 9.00,0M190.1,249.6a4.5,4.5 0 1,0 -9.00,0a4.5,4.5 0 1,0 9.00,0M191.7,249.2a4.5,4.5 0 1,0 -9.00,0a4.5,4.5 0 1,0 9.00,0M193.4,248.8a4.5,4.5 0 1,0 -9.00,0a4.5,4.5 0 1,0 9.00,0M195.0,248.4a4.5,4.5 0 1,0 -9.00,0a4.5,4.5 0 1,0 9.00,0M196.7,247.9a4.5,4.5 0 1,0 -9.00,0a4.5,4.5 0 1,0 9.00,0M198.3,247.4a4.5,4.5 0 1,0 -9.00,0a4.5,4.5 0 1,0 9.00,0M199.9,246.8a4.5,4.5 0 1,0 -9.00,0a4.5,4.5 0 1,0 9.00,0M201.6,246.2a4.5,4.5 0 1,0 -9.00,0a4.5,4.5 0 1,0 9.00,0M203.2,245.5a4.5,4.5 0 1,0 -9.00,0a4.5,4.5 0 1,0 9.00,0M204.9,244.8a4.5,4.5 0 1,0 -9.00,0a4.5,4.5 0 1,0 9.00,0M206.5,244.1a4.5,4.5 0 1,0 -9.00,0a4.5,4.5 0 1,0 9.00,0M208.1,243.4a4.5,4.5 0 1,0 -9.00,0a4.5,4.5 0 1,0 9.00,0M209.8,242.6a4.5,4.5 0 1,0 -9.00,0a4.5,4.5 0 1,0 9.00,0M211.4,241.9a4.5,4.5 0 1,0 -9.00,0a4.5,4.5 0 1,0 9.00,0M213.1,241.1a4.5,4.5 0 1,0 -9.00,0a4.5,4.5 0 1,0 9.00,0M214.7,240.4a4.5,4.5 0 1,0 -9.00,0a4.5,4.5 0 1,0 9.00,0M216.3,239.7a4.5,4.5 0 1,0 -9.00,0a4.5,4.5 0 1,0 9.00,0M218.0,238.9a4.5,4.5 0 1,0 -9.00,0a4.5,4.5 0 1,0 9.00,0M219.6,238.2a4.5,4.5 0 1,0 -9.00,0a4.5,4.5 0 1,0 9.00,0M221.3,237.4a4.5,4.5 0 1,0 -9.00,0a4.5,4.5 0 1,0 9.00,0M222.9,236.5a4.5,4.5 0 1,0 -9.00,0a4.5,4.5 0 1,0 9.00,0M224.5,235.7a4.5,4.5 0 1,0 -9.00,0a4.5,4.5 0 1,0 9.00,0M226.2,234.9a4.5,4.5 0 1,0 -9.00,0a4.5,4.5 0 1,0 9.00,0M227.8,234.0a4.5,4.5 0 1,0 -9.00,0a4.5,4.5 0 1,0 9.00,0M229.5,233.1a4.5,4.5 0 1,0 -9.00,0a4.5,4.5 0 1,0 9.00,0M231.1,232.1a4.5,4.5 0 1,0 -9.00,0a4.5,4.5 0 1,0 9.00,0M232.7,231.2a4.5,4.5 0 1,0 -9.00,0a4.5,4.5 0 1,0 9.00,0M234.4,230.2a4.5,4.5 0 1,0 -9.00,0a4.5,4.5 0 1,0 9.00,0M236.0,229.3a4.5,4.5 0 1,0 -9.00,0a4.5,4.5 0 1,0 9.00,0M237.7,228.3a4.5,4.5 0 1,0 -9.00,0a4.5,4.5 0 1,0 9.00,0M239.3,227.3a4.5,4.5 0 1,0 -9.00,0a4.5,4.5 0 1,0 9.00,0M240.9,226.3a4.5,4.5 0 1,0 -9.00,0a4.5,4.5 0 1,0 9.00,0M242.6,225.3a4.5,4.5 0 1,0 -9.00,0a4.5,4.5 0 1,0 9.00,0M244.2,224.2a4.5,4.5 0 1,0 -9.00,0a4.5,4.5 0 1,0 9.00,0M245.9,223.1a4.5,4.5 0 1,0 -9.00,0a4.5,4.5 0 1,0 9.00,0M247.5,222.0a4.5,4.5 0 1,0 -9.00,0a4.5,4.5 0 1,0 9.00,0M249.1,220.9a4.5,4.5 0 1,0 -9.00,0a4.5,4.5 0 1,0 9.00,0M250.8,219.7a4.5,4.5 0 1,0 -9.00,0a4.5,4.5 0 1,0 9.00,0M252.4,218.5a4.5,4.5 0 1,0 -9.00,0a4.5,4.5 0 1,0 9.00,0M254.1,217.2a4.5,4.5 0 1,0 -9.00,0a4.5,4.5 0 1,0 9.00,0M255.7,215.9a4.5,4.5 0 1,0 -9.00,0a4.5,4.5 0 1,0 9.00,0M257.3,214.5a4.5,4.5 0 1,0 -9.00,0a4.5,4.5 0 1,0 9.00,0M259.0,213.1a4.5,4.5 0 1,0 -9.00,0a4.5,4.5 0 1,0 9.00,0M260.6,211.6a4.5,4.5 0 1,0 -9.00,0a4.5,4.5 0 1,0 9.00,0M262.3,210.1a4.5,4.5 0 1,0 -9.00,0a4.5,4.5 0 1,0 9.00,0M263.9,208.5a4.5,4.5 0 1,0 -9.00,0a4.5,4.5 0 1,0 9.00,0M265.5,206.9a4.5,4.5 0 1,0 -9.00,0a4.5,4.5 0 1,0 9.00,0M267.2,205.2a4.5,4.5 0 1,0 -9.00,0a4.5,4.5 0 1,0 9.00,0M268.8,203.4a4.5,4.5 0 1,0 -9.00,0a4.5,4.5 0 1,0 9.00,0M270.5,201.6a4.5,4.5 0 1,0 -9.00,0a4.5,4.5 0 1,0 9.00,0M272.1,199.7a4.5,4.5 0 1,0 -9.00,0a4.5,4.5 0 1,0 9.00,0M273.7,197.7a4.5,4.5 0 1,0 -9.00,0a4.5,4.5 0 1,0 9.00,0M275.4,195.5a4.5,4.5 0 1,0 -9.00,0a4.5,4.5 0 1,0 9.00,0M277.0,193.2a4.5,4.5 0 1,0 -9.00,0a4.5,4.5 0 1,0 9.00,0M278.7,190.6a4.5,4.5 0 1,0 -9.00,0a4.5,4.5 0 1,0 9.00,0M280.3,187.7a4.5,4.5 0 1,0 -9.00,0a4.5,4.5 0 1,0 9.00,0M281.9,184.3a4.5,4.5 0 1,0 -9.00,0a4.5,4.5 0 1,0 9.00,0M283.6,180.6a4.5,4.5 0 1,0 -9.00,0a4.5,4.5 0 1,0 9.00,0M285.2,176.5a4.5,4.5 0 1,0 -9.00,0a4.5,4.5 0 1,0 9.00,0M286.9,172.2a4.5,4.5 0 1,0 -9.00,0a4.5,4.5 0 1,0 9.00,0M288.5,167.8a4.5,4.5 0 1,0 -9.00,0a4.5,4.5 0 1,0 9.00,0M290.1,163.1a4.5,4.5 0 1,0 -9.00,0a4.5,4.5 0 1,0 9.00,0M291.8,157.9a4.5,4.5 0 1,0 -9.00,0a4.5,4.5 0 1,0 9.00,0M293.4,152.2a4.5,4.5 0 1,0 -9.00,0a4.5,4.5 0 1,0 9.00,0M295.1,146.5a4.5,4.5 0 1,0 -9.00,0a4.5,4.5 0 1,0 9.00,0M296.7,141.0a4.5,4.5 0 1,0 -9.00,0a4.5,4.5 0 1,0 9.00,0M298.3,135.9a4.5,4.5 0 1,0 -9.00,0a4.5,4.5 0 1,0 9.00,0M300.0,130.7a4.5,4.5 0 1,0 -9.00,0a4.5,4.5 0 1,0 9.00,0M301.6,125.5a4.5,4.5 0 1,0 -9.00,0a4.5,4.5 0 1,0 9.00,0M303.3,120.3a4.5,4.5 0 1,0 -9.00,0a4.5,4.5 0 1,0 9.00,0M304.9,115.3a4.5,4.5 0 1,0 -9.00,0a4.5,4.5 0 1,0 9.00,0M306.5,110.3a4.5,4.5 0 1,0 -9.00,0a4.5,4.5 0 1,0 9.00,0M308.2,105.6a4.5,4.5 0 1,0 -9.00,0a4.5,4.5 0 1,0 9.00,0M309.8,101.1a4.5,4.5 0 1,0 -9.00,0a4.5,4.5 0 1,0 9.00,0M311.5,96.9a4.5,4.5 0 1,0 -9.00,0a4.5,4.5 0 1,0 9.00,0M313.1,93.0a4.5,4.5 0 1,0 -9.00,0a4.5,4.5 0 1,0 9.00,0M314.7,89.5a4.5,4.5 0 1,0 -9.00,0a4.5,4.5 0 1,0 9.00,0M316.4,86.3a4.5,4.5 0 1,0 -9.00,0a4.5,4.5 0 1,0 9.00,0M318.0,83.3a4.5,4.5 0 1,0 -9.00,0a4.5,4.5 0 1,0 9.00,0M319.7,80.6a4.5,4.5 0 1,0 -9.00,0a4.5,4.5 0 1,0 9.00,0M321.3,78.0a4.5,4.5 0 1,0 -9.00,0a4.5,4.5 0 1,0 9.00,0M322.9,75.6a4.5,4.5 0 1,0 -9.00,0a4.5,4.5 0 1,0 9.00,0M324.6,73.2a4.5,4.5 0 1,0 -9.00,0a4.5,4.5 0 1,0 9.00,0M326.2,70.8a4.5,4.5 0 1,0 -9.00,0a4.5,4.5 0 1,0 9.00,0M327.9,68.5a4.5,4.5 0 1,0 -9.00,0a4.5,4.5 0 1,0 9.00,0M329.5,66.3a4.5,4.5 0 1,0 -9.00,0a4.5,4.5 0 1,0 9.00,0M331.1,64.2a4.5,4.5 0 1,0 -9.00,0a4.5,4.5 0 1,0 9.00,0M332.8,62.3a4.5,4.5 0 1,0 -9.00,0a4.5,4.5 0 1,0 9.00,0M334.4,60.7a4.5,4.5 0 1,0 -9.00,0a4.5,4.5 0 1,0 9.00,0M336.1,59.3a4.5,4.5 0 1,0 -9.00,0a4.5,4.5 0 1,0 9.00,0M337.7,58.0a4.5,4.5 0 1,0 -9.00,0a4.5,4.5 0 1,0 9.00,0M339.3,56.8a4.5,4.5 0 1,0 -9.00,0a4.5,4.5 0 1,0 9.00,0M341.0,55.6a4.5,4.5 0 1,0 -9.00,0a4.5,4.5 0 1,0 9.00,0M342.6,54.5a4.5,4.5 0 1,0 -9.00,0a4.5,4.5 0 1,0 9.00,0M344.3,53.5a4.5,4.5 0 1,0 -9.00,0a4.5,4.5 0 1,0 9.00,0M345.9,52.5a4.5,4.5 0 1,0 -9.00,0a4.5,4.5 0 1,0 9.00,0M347.5,51.6a4.5,4.5 0 1,0 -9.00,0a4.5,4.5 0 1,0 9.00,0M349.2,50.6a4.5,4.5 0 1,0 -9.00,0a4.5,4.5 0 1,0 9.00,0M350.8,49.7a4.5,4.5 0 1,0 -9.00,0a4.5,4.5 0 1,0 9.00,0M352.5,48.9a4.5,4.5 0 1,0 -9.00,0a4.5,4.5 0 1,0 9.00,0M354.1,48.0a4.5,4.5 0 1,0 -9.00,0a4.5,4.5 0 1,0 9.00,0M355.7,47.1a4.5,4.5 0 1,0 -9.00,0a4.5,4.5 0 1,0 9.00,0M357.4,46.2a4.5,4.5 0 1,0 -9.00,0a4.5,4.5 0 1,0 9.00,0M359.0,45.3a4.5,4.5 0 1,0 -9.00,0a4.5,4.5 0 1,0 9.00,0M360.7,44.4a4.5,4.5 0 1,0 -9.00,0a4.5,4.5 0 1,0 9.00,0M362.3,43.5a4.5,4.5 0 1,0 -9.00,0a4.5,4.5 0 1,0 9.00,0M363.9,42.6a4.5,4.5 0 1,0 -9.00,0a4.5,4.5 0 1,0 9.00,0M365.6,41.8a4.5,4.5 0 1,0 -9.00,0a4.5,4.5 0 1,0 9.00,0M367.2,41.0a4.5,4.5 0 1,0 -9.00,0a4.5,4.5 0 1,0 9.00,0M368.9,40.3a4.5,4.5 0 1,0 -9.00,0a4.5,4.5 0 1,0 9.00,0M370.5,39.6a4.5,4.5 0 1,0 -9.00,0a4.5,4.5 0 1,0 9.00,0M372.1,39.0a4.5,4.5 0 1,0 -9.00,0a4.5,4.5 0 1,0 9.00,0M373.8,38.4a4.5,4.5 0 1,0 -9.00,0a4.5,4.5 0 1,0 9.00,0M375.4,37.9a4.5,4.5 0 1,0 -9.00,0a4.5,4.5 0 1,0 9.00,0M377.1,37.5a4.5,4.5 0 1,0 -9.00,0a4.5,4.5 0 1,0 9.00,0M378.7,37.0a4.5,4.5 0 1,0 -9.00,0a4.5,4.5 0 1,0 9.00,0M380.3,36.6a4.5,4.5 0 1,0 -9.00,0a4.5,4.5 0 1,0 9.00,0M382.0,36.2a4.5,4.5 0 1,0 -9.00,0a4.5,4.5 0 1,0 9.00,0M383.6,35.8a4.5,4.5 0 1,0 -9.00,0a4.5,4.5 0 1,0 9.00,0M385.3,35.4a4.5,4.5 0 1,0 -9.00,0a4.5,4.5 0 1,0 9.00,0M386.9,35.1a4.5,4.5 0 1,0 -9.00,0a4.5,4.5 0 1,0 9.00,0M388.5,34.7a4.5,4.5 0 1,0 -9.00,0a4.5,4.5 0 1,0 9.00,0M390.2,34.4a4.5,4.5 0 1,0 -9.00,0a4.5,4.5 0 1,0 9.00,0M391.8,34.1a4.5,4.5 0 1,0 -9.00,0a4.5,4.5 0 1,0 9.00,0M393.5,33.8a4.5,4.5 0 1,0 -9.00,0a4.5,4.5 0 1,0 9.00,0M395.1,33.5a4.5,4.5 0 1,0 -9.00,0a4.5,4.5 0 1,0 9.00,0M396.7,33.2a4.5,4.5 0 1,0 -9.00,0a4.5,4.5 0 1,0 9.00,0M398.4,33.0a4.5,4.5 0 1,0 -9.00,0a4.5,4.5 0 1,0 9.00,0M400.0,32.8a4.5,4.5 0 1,0 -9.00,0a4.5,4.5 0 1,0 9.00,0M401.7,32.5a4.5,4.5 0 1,0 -9.00,0a4.5,4.5 0 1,0 9.00,0M403.3,32.3a4.5,4.5 0 1,0 -9.00,0a4.5,4.5 0 1,0 9.00,0M404.9,32.1a4.5,4.5 0 1,0 -9.00,0a4.5,4.5 0 1,0 9.00,0M406.6,31.9a4.5,4.5 0 1,0 -9.00,0a4.5,4.5 0 1,0 9.00,0M408.2,31.8a4.5,4.5 0 1,0 -9.00,0a4.5,4.5 0 1,0 9.00,0M409.9,31.6a4.5,4.5 0 1,0 -9.00,0a4.5,4.5 0 1,0 9.00,0M411.5,31.4a4.5,4.5 0 1,0 -9.00,0a4.5,4.5 0 1,0 9.00,0M413.1,31.2a4.5,4.5 0 1,0 -9.00,0a4.5,4.5 0 1,0 9.00,0M414.8,31.0a4.5,4.5 0 1,0 -9.00,0a4.5,4.5 0 1,0 9.00,0M416.4,30.9a4.5,4.5 0 1,0 -9.00,0a4.5,4.5 0 1,0 9.00,0M418.1,30.7a4.5,4.5 0 1,0 -9.00,0a4.5,4.5 0 1,0 9.00,0M419.7,30.5a4.5,4.5 0 1,0 -9.00,0a4.5,4.5 0 1,0 9.00,0M421.3,30.4a4.5,4.5 0 1,0 -9.00,0a4.5,4.5 0 1,0 9.00,0M423.0,30.2a4.5,4.5 0 1,0 -9.00,0a4.5,4.5 0 1,0 9.00,0M424.6,30.1a4.5,4.5 0 1,0 -9.00,0a4.5,4.5 0 1,0 9.00,0M426.3,29.9a4.5,4.5 0 1,0 -9.00,0a4.5,4.5 0 1,0 9.00,0M427.9,29.8a4.5,4.5 0 1,0 -9.00,0a4.5,4.5 0 1,0 9.00,0M429.5,29.6a4.5,4.5 0 1,0 -9.00,0a4.5,4.5 0 1,0 9.00,0M431.2,29.5a4.5,4.5 0 1,0 -9.00,0a4.5,4.5 0 1,0 9.00,0M432.8,29.4a4.5,4.5 0 1,0 -9.00,0a4.5,4.5 0 1,0 9.00,0M434.5,29.2a4.5,4.5 0 1,0 -9.00,0a4.5,4.5 0 1,0 9.00,0M436.1,29.1a4.5,4.5 0 1,0 -9.00,0a4.5,4.5 0 1,0 9.00,0M437.7,29.0a4.5,4.5 0 1,0 -9.00,0a4.5,4.5 0 1,0 9.00,0M439.4,28.9a4.5,4.5 0 1,0 -9.00,0a4.5,4.5 0 1,0 9.00,0M441.0,28.8a4.5,4.5 0 1,0 -9.00,0a4.5,4.5 0 1,0 9.00,0M442.7,28.6a4.5,4.5 0 1,0 -9.00,0a4.5,4.5 0 1,0 9.00,0M444.3,28.5a4.5,4.5 0 1,0 -9.00,0a4.5,4.5 0 1,0 9.00,0M445.9,28.4a4.5,4.5 0 1,0 -9.00,0a4.5,4.5 0 1,0 9.00,0M447.6,28.3a4.5,4.5 0 1,0 -9.00,0a4.5,4.5 0 1,0 9.00,0M449.2,28.2a4.5,4.5 0 1,0 -9.00,0a4.5,4.5 0 1,0 9.00,0M450.9,28.2a4.5,4.5 0 1,0 -9.00,0a4.5,4.5 0 1,0 9.00,0M452.5,28.1a4.5,4.5 0 1,0 -9.00,0a4.5,4.5 0 1,0 9.00,0M454.1,28.0a4.5,4.5 0 1,0 -9.00,0a4.5,4.5 0 1,0 9.00,0M455.8,27.9a4.5,4.5 0 1,0 -9.00,0a4.5,4.5 0 1,0 9.00,0M457.4,27.8a4.5,4.5 0 1,0 -9.00,0a4.5,4.5 0 1,0 9.00,0M459.1,27.8a4.5,4.5 0 1,0 -9.00,0a4.5,4.5 0 1,0 9.00,0M460.7,27.7a4.5,4.5 0 1,0 -9.00,0a4.5,4.5 0 1,0 9.00,0M462.3,27.7a4.5,4.5 0 1,0 -9.00,0a4.5,4.5 0 1,0 9.00,0M464.0,27.6a4.5,4.5 0 1,0 -9.00,0a4.5,4.5 0 1,0 9.00,0M465.6,27.6a4.5,4.5 0 1,0 -9.00,0a4.5,4.5 0 1,0 9.00,0M467.3,27.5a4.5,4.5 0 1,0 -9.00,0a4.5,4.5 0 1,0 9.00,0M468.9,27.5a4.5,4.5 0 1,0 -9.00,0a4.5,4.5 0 1,0 9.00,0M470.5,27.4a4.5,4.5 0 1,0 -9.00,0a4.5,4.5 0 1,0 9.00,0M472.2,27.4a4.5,4.5 0 1,0 -9.00,0a4.5,4.5 0 1,0 9.00,0M473.8,27.3a4.5,4.5 0 1,0 -9.00,0a4.5,4.5 0 1,0 9.00,0M475.5,27.3a4.5,4.5 0 1,0 -9.00,0a4.5,4.5 0 1,0 9.00,0M477.1,27.2a4.5,4.5 0 1,0 -9.00,0a4.5,4.5 0 1,0 9.00,0M478.7,27.2a4.5,4.5 0 1,0 -9.00,0a4.5,4.5 0 1,0 9.00,0M480.4,27.2a4.5,4.5 0 1,0 -9.00,0a4.5,4.5 0 1,0 9.00,0M482.0,27.1a4.5,4.5 0 1,0 -9.00,0a4.5,4.5 0 1,0 9.00,0M483.7,27.1a4.5,4.5 0 1,0 -9.00,0a4.5,4.5 0 1,0 9.00,0M485.3,27.1a4.5,4.5 0 1,0 -9.00,0a4.5,4.5 0 1,0 9.00,0M486.9,27.0a4.5,4.5 0 1,0 -9.00,0a4.5,4.5 0 1,0 9.00,0M488.6,27.0a4.5,4.5 0 1,0 -9.00,0a4.5,4.5 0 1,0 9.00,0M490.2,27.0a4.5,4.5 0 1,0 -9.00,0a4.5,4.5 0 1,0 9.00,0M491.9,27.0a4.5,4.5 0 1,0 -9.00,0a4.5,4.5 0 1,0 9.00,0M493.5,27.0a4.5,4.5 0 1,0 -9.00,0a4.5,4.5 0 1,0 9.00,0" fill="none" stroke="#0000ff" stroke-width="2.4"/>
</g>
<rect x="62.8" y="2.0" width="426.2" height="313.3" fill="none" stroke="#000" stroke-width="2.2"/>
<path d="M62.6,315.3v5.8M62.6,2.0v5.8M79.0,315.3v3.6M79.0,2.0v3.6M95.4,315.3v5.8M95.4,2.0v5.8M111.8,315.3v3.6M111.8,2.0v3.6M128.2,315.3v5.8M128.2,2.0v5.8M144.6,315.3v3.6M144.6,2.0v3.6M161.0,315.3v5.8M161.0,2.0v5.8M177.4,315.3v3.6M177.4,2.0v3.6M193.8,315.3v5.8M193.8,2.0v5.8M210.2,315.3v3.6M210.2,2.0v3.6M226.6,315.3v5.8M226.6,2.0v5.8M243.0,315.3v3.6M243.0,2.0v3.6M259.4,315.3v5.8M259.4,2.0v5.8M275.8,315.3v3.6M275.8,2.0v3.6M292.2,315.3v5.8M292.2,2.0v5.8M308.6,315.3v3.6M308.6,2.0v3.6M325.0,315.3v5.8M325.0,2.0v5.8M341.4,315.3v3.6M341.4,2.0v3.6M357.8,315.3v5.8M357.8,2.0v5.8M374.2,315.3v3.6M374.2,2.0v3.6M390.6,315.3v5.8M390.6,2.0v5.8M407.0,315.3v3.6M407.0,2.0v3.6M423.4,315.3v5.8M423.4,2.0v5.8M439.8,315.3v3.6M439.8,2.0v3.6M456.2,315.3v5.8M456.2,2.0v5.8M472.6,315.3v3.6M472.6,2.0v3.6M489.0,315.3v5.8M489.0,2.0v5.8M62.8,315.3h-3.6M489.0,315.3h-3.6M62.8,289.2h-5.8M489.0,289.2h-5.8M62.8,263.1h-3.6M489.0,263.1h-3.6M62.8,237.0h-5.8M489.0,237.0h-5.8M62.8,210.9h-3.6M489.0,210.9h-3.6M62.8,184.8h-5.8M489.0,184.8h-5.8M62.8,158.8h-3.6M489.0,158.8h-3.6M62.8,132.7h-5.8M489.0,132.7h-5.8M62.8,106.6h-3.6M489.0,106.6h-3.6M62.8,80.5h-5.8M489.0,80.5h-5.8M62.8,54.4h-3.6M489.0,54.4h-3.6M62.8,28.3h-5.8M489.0,28.3h-5.8M62.8,2.2h-3.6M489.0,2.2h-3.6" stroke="#000" stroke-width="2.1" fill="none"/>
<text x="62.90" y="344.60" text-anchor="middle" fill="#000" stroke="#000" stroke-width="0.3" style="font-family:'Liberation Serif',serif;font-weight:bold"><tspan style="font-size:23.53px">-5</tspan></text>
<text x="95.70" y="344.60" text-anchor="middle" fill="#000" stroke="#000" stroke-width="0.3" style="font-family:'Liberation Serif',serif;font-weight:bold"><tspan style="font-size:23.53px">-4</tspan></text>
<text x="128.50" y="344.60" text-anchor="middle" fill="#000" stroke="#000" stroke-width="0.3" style="font-family:'Liberation Serif',serif;font-weight:bold"><tspan style="font-size:23.53px">-3</tspan></text>
<text x="161.30" y="344.60" text-anchor="middle" fill="#000" stroke="#000" stroke-width="0.3" style="font-family:'Liberation Serif',serif;font-weight:bold"><tspan style="font-size:23.53px">-2</tspan></text>
<text x="194.10" y="344.60" text-anchor="middle" fill="#000" stroke="#000" stroke-width="0.3" style="font-family:'Liberation Serif',serif;font-weight:bold"><tspan style="font-size:23.53px">-1</tspan></text>
<text x="226.90" y="344.60" text-anchor="middle" fill="#000" stroke="#000" stroke-width="0.3" style="font-family:'Liberation Serif',serif;font-weight:bold"><tspan style="font-size:23.53px">0</tspan></text>
<text x="259.70" y="344.60" text-anchor="middle" fill="#000" stroke="#000" stroke-width="0.3" style="font-family:'Liberation Serif',serif;font-weight:bold"><tspan style="font-size:23.53px">1</tspan></text>
<text x="292.50" y="344.60" text-anchor="middle" fill="#000" stroke="#000" stroke-width="0.3" style="font-family:'Liberation Serif',serif;font-weight:bold"><tspan style="font-size:23.53px">2</tspan></text>
<text x="325.30" y="344.60" text-anchor="middle" fill="#000" stroke="#000" stroke-width="0.3" style="font-family:'Liberation Serif',serif;font-weight:bold"><tspan style="font-size:23.53px">3</tspan></text>
<text x="358.10" y="344.60" text-anchor="middle" fill="#000" stroke="#000" stroke-width="0.3" style="font-family:'Liberation Serif',serif;font-weight:bold"><tspan style="font-size:23.53px">4</tspan></text>
<text x="390.90" y="344.60" text-anchor="middle" fill="#000" stroke="#000" stroke-width="0.3" style="font-family:'Liberation Serif',serif;font-weight:bold"><tspan style="font-size:23.53px">5</tspan></text>
<text x="423.70" y="344.60" text-anchor="middle" fill="#000" stroke="#000" stroke-width="0.3" style="font-family:'Liberation Serif',serif;font-weight:bold"><tspan style="font-size:23.53px">6</tspan></text>
<text x="456.50" y="344.60" text-anchor="middle" fill="#000" stroke="#000" stroke-width="0.3" style="font-family:'Liberation Serif',serif;font-weight:bold"><tspan style="font-size:23.53px">7</tspan></text>
<text x="489.30" y="344.60" text-anchor="middle" fill="#000" stroke="#000" stroke-width="0.3" style="font-family:'Liberation Serif',serif;font-weight:bold"><tspan style="font-size:23.53px">8</tspan></text>
<text x="53.00" y="295.60" text-anchor="end" fill="#000" stroke="#000" stroke-width="0.3" style="font-family:'Liberation Serif',serif;font-weight:bold"><tspan style="font-size:20.68px">0.0</tspan></text>
<text x="53.00" y="243.42" text-anchor="end" fill="#000" stroke="#000" stroke-width="0.3" style="font-family:'Liberation Serif',serif;font-weight:bold"><tspan style="font-size:20.68px">0.2</tspan></text>
<text x="53.00" y="191.24" text-anchor="end" fill="#000" stroke="#000" stroke-width="0.3" style="font-family:'Liberation Serif',serif;font-weight:bold"><tspan style="font-size:20.68px">0.4</tspan></text>
<text x="53.00" y="139.06" text-anchor="end" fill="#000" stroke="#000" stroke-width="0.3" style="font-family:'Liberation Serif',serif;font-weight:bold"><tspan style="font-size:20.68px">0.6</tspan></text>
<text x="53.00" y="86.88" text-anchor="end" fill="#000" stroke="#000" stroke-width="0.3" style="font-family:'Liberation Serif',serif;font-weight:bold"><tspan style="font-size:20.68px">0.8</tspan></text>
<text x="53.00" y="34.70" text-anchor="end" fill="#000" stroke="#000" stroke-width="0.3" style="font-family:'Liberation Serif',serif;font-weight:bold"><tspan style="font-size:20.68px">1.0</tspan></text>
<text x="229.60" y="366.60" text-anchor="start" fill="#000" stroke="#000" stroke-width="0.3" style="font-family:'Liberation Serif',serif;font-weight:bold"><tspan style="font-size:21.25px">Voltage (V)</tspan></text>
<text transform="translate(17.70,186.00) rotate(-90)" text-anchor="start" fill="#000" stroke="#000" stroke-width="0.3" style="font-family:'Liberation Serif',serif;font-weight:bold"><tspan style="font-size:23.71px">C/C</tspan><tspan dy="5.45" style="font-size:14.70px">ox</tspan></text>
<text x="71.60" y="24.30" text-anchor="start" fill="#000" stroke="#000" stroke-width="0.3" style="font-family:'Liberation Serif',serif;font-weight:bold"><tspan style="font-size:21.58px">(a)</tspan></text>
<text x="67.40" y="52.50" text-anchor="start" fill="#000" stroke="#000" stroke-width="0.3" style="font-family:'Liberation Serif',serif;font-weight:bold"><tspan style="font-size:21.54px">SiO</tspan><tspan dy="5.38" style="font-size:12.92px">2</tspan><tspan dy="-5.38" style="font-size:21.54px">/4H-SiC</tspan></text>
<text x="69.40" y="83.00" text-anchor="start" fill="#000" stroke="#000" stroke-width="0.3" style="font-family:'Liberation Serif',serif;font-weight:bold"><tspan style="font-size:21.55px">T</tspan><tspan dy="4.96" style="font-size:13.79px">SiO</tspan><tspan style="font-size:7.33px">2</tspan><tspan dy="-4.96" style="font-size:21.55px">: 30 nm</tspan></text>
<text x="71.00" y="117.00" text-anchor="start" fill="#000" stroke="#000" stroke-width="0.3" style="font-family:'Liberation Serif',serif;font-weight:bold"><tspan style="font-size:20.63px">V</tspan><tspan dy="5.16" style="font-size:12.38px">FB</tspan><tspan dy="-5.16" style="font-size:20.63px">: 1.20 V</tspan></text>
<text x="257.60" y="236.00" text-anchor="start" fill="#0000ff" stroke="#0000ff" stroke-width="0.3" style="font-family:'Liberation Serif',serif;font-weight:bold"><tspan style="font-size:20.95px">HfO</tspan><tspan dy="5.24" style="font-size:12.57px">2</tspan><tspan dy="-5.24" style="font-size:20.95px">(10 nm)/SiO</tspan><tspan dy="5.24" style="font-size:12.57px">2</tspan><tspan dy="-5.24" style="font-size:20.95px">/4H-SiC</tspan></text>
<text x="258.00" y="259.80" text-anchor="start" fill="#0000ff" stroke="#0000ff" stroke-width="0.3" style="font-family:'Liberation Serif',serif;font-weight:bold"><tspan style="font-size:20.75px">V</tspan><tspan dy="5.19" style="font-size:12.45px">FB</tspan><tspan dy="-5.19" style="font-size:20.75px">: 1.67 V</tspan></text>
<text x="258.00" y="284.30" text-anchor="start" fill="#ff0000" stroke="#ff0000" stroke-width="0.3" style="font-family:'Liberation Serif',serif;font-weight:bold"><tspan style="font-size:20.53px">HfO</tspan><tspan dy="5.13" style="font-size:12.32px">2</tspan><tspan dy="-5.13" style="font-size:20.53px">(5 nm)/SiO</tspan><tspan dy="5.13" style="font-size:12.32px">2</tspan><tspan dy="-5.13" style="font-size:20.53px">/4H-SiC</tspan></text>
<text x="258.00" y="306.10" text-anchor="start" fill="#ff0000" stroke="#ff0000" stroke-width="0.3" style="font-family:'Liberation Serif',serif;font-weight:bold"><tspan style="font-size:20.75px">V</tspan><tspan dy="5.19" style="font-size:12.45px">FB</tspan><tspan dy="-5.19" style="font-size:20.75px">: 1.50 V</tspan></text>
<text x="105.40" y="282.60" text-anchor="start" fill="#000" stroke="#000" stroke-width="0.3" style="font-family:'Liberation Serif',serif;font-weight:bold"><tspan style="font-size:20.94px">Forward sweep</tspan></text>
<text x="105.40" y="309.40" text-anchor="start" fill="#000" stroke="#000" stroke-width="0.3" style="font-family:'Liberation Serif',serif;font-weight:bold"><tspan style="font-size:20.90px">Reserve sweep</tspan></text>
<path d="M74.8,270.9L79.6,277.6L70.0,277.6Z" fill="none" stroke="#000" stroke-width="2.7" stroke-linejoin="round"/>
<circle cx="75.1" cy="301.9" r="3.5" fill="none" stroke="#000" stroke-width="2.7"/>
<path d="M489.0,0.8999999999999999V316.40000000000003" stroke="#000" stroke-width="2.2"/>
<clipPath id="clipB"><rect x="593.2" y="2.0" width="426.0999999999999" height="313.3"/></clipPath>
<g clip-path="url(#clipB)">
<path d="M620.7,82.6h9.8v9.8h-9.8ZM624.6,85.1h9.8v9.8h-9.8ZM628.6,87.7h9.8v9.8h-9.8ZM632.5,90.3h9.8v9.8h-9.8ZM636.4,92.9h9.8v9.8h-9.8ZM640.4,95.5h9.8v9.8h-9.8ZM644.3,98.0h9.8v9.8h-9.8ZM648.3,100.6h9.8v9.8h-9.8ZM652.2,103.2h9.8v9.8h-9.8ZM656.1,105.8h9.8v9.8h-9.8ZM660.1,108.4h9.8v9.8h-9.8ZM664.0,111.0h9.8v9.8h-9.8ZM667.9,113.6h9.8v9.8h-9.8ZM671.9,116.3h9.8v9.8h-9.8ZM675.8,118.9h9.8v9.8h-9.8ZM679.7,121.5h9.8v9.8h-9.8ZM683.7,124.1h9.8v9.8h-9.8ZM687.6,126.7h9.8v9.8h-9.8ZM691.5,129.4h9.8v9.8h-9.8ZM695.5,132.0h9.8v9.8h-9.8ZM699.4,134.6h9.8v9.8h-9.8ZM703.4,137.3h9.8v9.8h-9.8ZM707.3,139.9h9.8v9.8h-9.8ZM711.2,142.5h9.8v9.8h-9.8ZM715.2,145.2h9.8v9.8h-9.8ZM719.1,147.8h9.8v9.8h-9.8ZM723.0,150.5h9.8v9.8h-9.8ZM727.0,153.1h9.8v9.8h-9.8ZM730.9,155.8h9.8v9.8h-9.8ZM734.8,158.5h9.8v9.8h-9.8ZM738.8,161.1h9.8v9.8h-9.8ZM742.7,163.8h9.8v9.8h-9.8ZM746.7,166.5h9.8v9.8h-9.8ZM750.6,169.1h9.8v9.8h-9.8ZM754.5,171.8h9.8v9.8h-9.8ZM758.5,174.5h9.8v9.8h-9.8ZM762.4,177.2h9.8v9.8h-9.8ZM766.3,179.9h9.8v9.8h-9.8ZM770.3,182.6h9.8v9.8h-9.8ZM774.2,185.3h9.8v9.8h-9.8ZM778.1,188.0h9.8v9.8h-9.8ZM782.1,190.7h9.8v9.8h-9.8ZM786.0,193.4h9.8v9.8h-9.8ZM789.9,196.1h9.8v9.8h-9.8ZM793.9,198.8h9.8v9.8h-9.8ZM797.8,201.5h9.8v9.8h-9.8ZM801.8,204.2h9.8v9.8h-9.8ZM805.7,206.9h9.8v9.8h-9.8ZM809.6,209.7h9.8v9.8h-9.8ZM813.6,212.4h9.8v9.8h-9.8ZM817.5,215.1h9.8v9.8h-9.8ZM821.4,217.9h9.8v9.8h-9.8ZM825.4,220.6h9.8v9.8h-9.8ZM829.3,223.3h9.8v9.8h-9.8ZM833.2,226.1h9.8v9.8h-9.8ZM837.2,228.8h9.8v9.8h-9.8ZM841.1,231.6h9.8v9.8h-9.8ZM845.1,234.3h9.8v9.8h-9.8ZM849.0,237.1h9.8v9.8h-9.8ZM852.9,239.8h9.8v9.8h-9.8ZM856.9,242.6h9.8v9.8h-9.8ZM860.8,245.4h9.8v9.8h-9.8ZM864.7,248.1h9.8v9.8h-9.8ZM868.7,250.9h9.8v9.8h-9.8ZM872.6,253.7h9.8v9.8h-9.8ZM876.5,256.5h9.8v9.8h-9.8ZM880.5,259.3h9.8v9.8h-9.8Z" fill="#555555"/>
<line x1="593" y1="64.9" x2="959.6" y2="315.3" stroke="#000" stroke-width="2.6" stroke-dasharray="11,9.45" stroke-dashoffset="-4.0"/>
<line x1="593" y1="29.7" x2="999.85" y2="315.3" stroke="#ff0000" stroke-width="2.6" stroke-dasharray="11,9.45" stroke-dashoffset="-3.3"/>
<path d="M630.5,56.2a4.85,4.85 0 1,0 -9.7,0a4.85,4.85 0 1,0 9.7,0M634.4,58.8a4.85,4.85 0 1,0 -9.7,0a4.85,4.85 0 1,0 9.7,0M638.3,61.3a4.85,4.85 0 1,0 -9.7,0a4.85,4.85 0 1,0 9.7,0M642.3,63.9a4.85,4.85 0 1,0 -9.7,0a4.85,4.85 0 1,0 9.7,0M646.2,66.4a4.85,4.85 0 1,0 -9.7,0a4.85,4.85 0 1,0 9.7,0M650.1,69.0a4.85,4.85 0 1,0 -9.7,0a4.85,4.85 0 1,0 9.7,0M654.1,71.5a4.85,4.85 0 1,0 -9.7,0a4.85,4.85 0 1,0 9.7,0M658.0,74.1a4.85,4.85 0 1,0 -9.7,0a4.85,4.85 0 1,0 9.7,0M661.9,76.7a4.85,4.85 0 1,0 -9.7,0a4.85,4.85 0 1,0 9.7,0M665.9,79.2a4.85,4.85 0 1,0 -9.7,0a4.85,4.85 0 1,0 9.7,0M669.8,81.8a4.85,4.85 0 1,0 -9.7,0a4.85,4.85 0 1,0 9.7,0M673.7,84.4a4.85,4.85 0 1,0 -9.7,0a4.85,4.85 0 1,0 9.7,0M677.7,87.0a4.85,4.85 0 1,0 -9.7,0a4.85,4.85 0 1,0 9.7,0M681.6,89.5a4.85,4.85 0 1,0 -9.7,0a4.85,4.85 0 1,0 9.7,0M685.6,92.1a4.85,4.85 0 1,0 -9.7,0a4.85,4.85 0 1,0 9.7,0M689.5,94.7a4.85,4.85 0 1,0 -9.7,0a4.85,4.85 0 1,0 9.7,0M693.4,97.3a4.85,4.85 0 1,0 -9.7,0a4.85,4.85 0 1,0 9.7,0M697.4,99.9a4.85,4.85 0 1,0 -9.7,0a4.85,4.85 0 1,0 9.7,0M701.3,102.5a4.85,4.85 0 1,0 -9.7,0a4.85,4.85 0 1,0 9.7,0M705.2,105.1a4.85,4.85 0 1,0 -9.7,0a4.85,4.85 0 1,0 9.7,0M709.2,107.7a4.85,4.85 0 1,0 -9.7,0a4.85,4.85 0 1,0 9.7,0M713.1,110.3a4.85,4.85 0 1,0 -9.7,0a4.85,4.85 0 1,0 9.7,0M717.0,113.0a4.85,4.85 0 1,0 -9.7,0a4.85,4.85 0 1,0 9.7,0M721.0,115.6a4.85,4.85 0 1,0 -9.7,0a4.85,4.85 0 1,0 9.7,0M724.9,118.2a4.85,4.85 0 1,0 -9.7,0a4.85,4.85 0 1,0 9.7,0M728.9,120.8a4.85,4.85 0 1,0 -9.7,0a4.85,4.85 0 1,0 9.7,0M732.8,123.5a4.85,4.85 0 1,0 -9.7,0a4.85,4.85 0 1,0 9.7,0M736.7,126.1a4.85,4.85 0 1,0 -9.7,0a4.85,4.85 0 1,0 9.7,0M740.7,128.7a4.85,4.85 0 1,0 -9.7,0a4.85,4.85 0 1,0 9.7,0M744.6,131.4a4.85,4.85 0 1,0 -9.7,0a4.85,4.85 0 1,0 9.7,0M748.5,134.0a4.85,4.85 0 1,0 -9.7,0a4.85,4.85 0 1,0 9.7,0M752.5,136.7a4.85,4.85 0 1,0 -9.7,0a4.85,4.85 0 1,0 9.7,0M756.4,139.3a4.85,4.85 0 1,0 -9.7,0a4.85,4.85 0 1,0 9.7,0M760.3,142.0a4.85,4.85 0 1,0 -9.7,0a4.85,4.85 0 1,0 9.7,0M764.3,144.6a4.85,4.85 0 1,0 -9.7,0a4.85,4.85 0 1,0 9.7,0M768.2,147.3a4.85,4.85 0 1,0 -9.7,0a4.85,4.85 0 1,0 9.7,0M772.1,150.0a4.85,4.85 0 1,0 -9.7,0a4.85,4.85 0 1,0 9.7,0M776.1,152.6a4.85,4.85 0 1,0 -9.7,0a4.85,4.85 0 1,0 9.7,0M780.0,155.3a4.85,4.85 0 1,0 -9.7,0a4.85,4.85 0 1,0 9.7,0M784.0,158.0a4.85,4.85 0 1,0 -9.7,0a4.85,4.85 0 1,0 9.7,0M787.9,160.7a4.85,4.85 0 1,0 -9.7,0a4.85,4.85 0 1,0 9.7,0M791.8,163.4a4.85,4.85 0 1,0 -9.7,0a4.85,4.85 0 1,0 9.7,0M795.8,166.0a4.85,4.85 0 1,0 -9.7,0a4.85,4.85 0 1,0 9.7,0M799.7,168.7a4.85,4.85 0 1,0 -9.7,0a4.85,4.85 0 1,0 9.7,0M803.6,171.4a4.85,4.85 0 1,0 -9.7,0a4.85,4.85 0 1,0 9.7,0M807.6,174.1a4.85,4.85 0 1,0 -9.7,0a4.85,4.85 0 1,0 9.7,0M811.5,176.8a4.85,4.85 0 1,0 -9.7,0a4.85,4.85 0 1,0 9.7,0M815.4,179.5a4.85,4.85 0 1,0 -9.7,0a4.85,4.85 0 1,0 9.7,0M819.4,182.2a4.85,4.85 0 1,0 -9.7,0a4.85,4.85 0 1,0 9.7,0M823.3,185.0a4.85,4.85 0 1,0 -9.7,0a4.85,4.85 0 1,0 9.7,0M827.3,187.7a4.85,4.85 0 1,0 -9.7,0a4.85,4.85 0 1,0 9.7,0M831.2,190.4a4.85,4.85 0 1,0 -9.7,0a4.85,4.85 0 1,0 9.7,0M835.1,193.1a4.85,4.85 0 1,0 -9.7,0a4.85,4.85 0 1,0 9.7,0M839.1,195.9a4.85,4.85 0 1,0 -9.7,0a4.85,4.85 0 1,0 9.7,0M843.0,198.6a4.85,4.85 0 1,0 -9.7,0a4.85,4.85 0 1,0 9.7,0M846.9,201.3a4.85,4.85 0 1,0 -9.7,0a4.85,4.85 0 1,0 9.7,0M850.9,204.1a4.85,4.85 0 1,0 -9.7,0a4.85,4.85 0 1,0 9.7,0M854.8,206.8a4.85,4.85 0 1,0 -9.7,0a4.85,4.85 0 1,0 9.7,0M858.7,209.5a4.85,4.85 0 1,0 -9.7,0a4.85,4.85 0 1,0 9.7,0M862.7,212.3a4.85,4.85 0 1,0 -9.7,0a4.85,4.85 0 1,0 9.7,0M866.6,215.0a4.85,4.85 0 1,0 -9.7,0a4.85,4.85 0 1,0 9.7,0M870.5,217.8a4.85,4.85 0 1,0 -9.7,0a4.85,4.85 0 1,0 9.7,0M874.5,220.6a4.85,4.85 0 1,0 -9.7,0a4.85,4.85 0 1,0 9.7,0M878.4,223.3a4.85,4.85 0 1,0 -9.7,0a4.85,4.85 0 1,0 9.7,0M882.4,226.1a4.85,4.85 0 1,0 -9.7,0a4.85,4.85 0 1,0 9.7,0M886.3,228.9a4.85,4.85 0 1,0 -9.7,0a4.85,4.85 0 1,0 9.7,0M890.2,231.6a4.85,4.85 0 1,0 -9.7,0a4.85,4.85 0 1,0 9.7,0" fill="#f23535" stroke="#e82828" stroke-width="1"/>
<path d="M625.6,54.5L631.9,65.5L619.4,65.5ZM629.5,57.1L635.8,68.1L623.3,68.1ZM633.5,59.7L639.7,70.7L627.2,70.7ZM637.4,62.3L643.7,73.3L631.2,73.3ZM641.3,64.8L647.6,75.8L635.1,75.8ZM645.3,67.4L651.5,78.4L639.0,78.4ZM649.2,70.0L655.5,81.0L643.0,81.0ZM653.2,72.6L659.4,83.6L646.9,83.6ZM657.1,75.2L663.3,86.2L650.8,86.2ZM661.0,77.9L667.3,88.9L654.8,88.9ZM665.0,80.5L671.2,91.5L658.7,91.5ZM668.9,83.1L675.1,94.1L662.6,94.1ZM672.8,85.7L679.1,96.7L666.6,96.7ZM676.8,88.4L683.0,99.4L670.5,99.4ZM680.7,91.0L687.0,102.0L674.5,102.0ZM684.6,93.6L690.9,104.6L678.4,104.6ZM688.6,96.3L694.8,107.3L682.3,107.3ZM692.5,99.0L698.8,110.0L686.3,110.0ZM696.4,101.6L702.7,112.6L690.2,112.6ZM700.4,104.3L706.6,115.3L694.1,115.3ZM704.3,107.0L710.6,118.0L698.1,118.0ZM708.3,109.6L714.5,120.6L702.0,120.6ZM712.2,112.3L718.4,123.3L705.9,123.3ZM716.1,115.0L722.4,126.0L709.9,126.0ZM720.1,117.7L726.3,128.7L713.8,128.7ZM724.0,120.4L730.3,131.4L717.8,131.4ZM727.9,123.1L734.2,134.1L721.7,134.1ZM731.9,125.8L738.1,136.8L725.6,136.8ZM735.8,128.5L742.1,139.5L729.6,139.5ZM739.7,131.3L746.0,142.3L733.5,142.3ZM743.7,134.0L749.9,145.0L737.4,145.0ZM747.6,136.7L753.9,147.7L741.4,147.7ZM751.6,139.5L757.8,150.5L745.3,150.5ZM755.5,142.2L761.7,153.2L749.2,153.2ZM759.4,145.0L765.7,156.0L753.2,156.0ZM763.4,147.7L769.6,158.7L757.1,158.7ZM767.3,150.5L773.5,161.5L761.0,161.5ZM771.2,153.2L777.5,164.2L765.0,164.2ZM775.2,156.0L781.4,167.0L768.9,167.0ZM779.1,158.8L785.4,169.8L772.9,169.8ZM783.0,161.6L789.3,172.6L776.8,172.6ZM787.0,164.3L793.2,175.3L780.7,175.3ZM790.9,167.1L797.2,178.1L784.7,178.1ZM794.8,169.9L801.1,180.9L788.6,180.9ZM798.8,172.7L805.0,183.7L792.5,183.7ZM802.7,175.5L809.0,186.5L796.5,186.5ZM806.7,178.4L812.9,189.4L800.4,189.4ZM810.6,181.2L816.8,192.2L804.3,192.2ZM814.5,184.0L820.8,195.0L808.3,195.0ZM818.5,186.8L824.7,197.8L812.2,197.8ZM822.4,189.7L828.7,200.7L816.2,200.7ZM826.3,192.5L832.6,203.5L820.1,203.5ZM830.3,195.4L836.5,206.4L824.0,206.4ZM834.2,198.2L840.5,209.2L828.0,209.2ZM838.1,201.1L844.4,212.1L831.9,212.1ZM842.1,203.9L848.3,214.9L835.8,214.9ZM846.0,206.8L852.3,217.8L839.8,217.8ZM850.0,209.7L856.2,220.7L843.7,220.7ZM853.9,212.5L860.1,223.5L847.6,223.5ZM857.8,215.4L864.1,226.4L851.6,226.4ZM861.8,218.3L868.0,229.3L855.5,229.3ZM865.7,221.2L871.9,232.2L859.4,232.2ZM869.6,224.1L875.9,235.1L863.4,235.1ZM873.6,227.0L879.8,238.0L867.3,238.0ZM877.5,229.9L883.8,240.9L871.3,240.9ZM881.4,232.8L887.7,243.8L875.2,243.8ZM885.4,235.8L891.6,246.8L879.1,246.8Z" fill="#0000ff"/>
<line x1="593" y1="37.5" x2="988.3" y2="315.3" stroke="#0000ff" stroke-width="2.6" stroke-dasharray="11,9.45" stroke-dashoffset="-11.0"/>
</g>
<rect x="593.2" y="2.0" width="426.0999999999999" height="313.3" fill="none" stroke="#000" stroke-width="2.2"/>
<path d="M592.8,315.3v3.6M592.8,2.0v3.6M625.6,315.3v5.8M625.6,2.0v5.8M658.4,315.3v3.6M658.4,2.0v3.6M691.2,315.3v5.8M691.2,2.0v5.8M724.0,315.3v3.6M724.0,2.0v3.6M756.8,315.3v5.8M756.8,2.0v5.8M789.6,315.3v3.6M789.6,2.0v3.6M822.4,315.3v5.8M822.4,2.0v5.8M855.2,315.3v3.6M855.2,2.0v3.6M888.0,315.3v5.8M888.0,2.0v5.8M920.8,315.3v3.6M920.8,2.0v3.6M953.6,315.3v5.8M953.6,2.0v5.8M986.4,315.3v3.6M986.4,2.0v3.6M1019.2,315.3v5.8M1019.2,2.0v5.8M593.2,315.3h-5.8M1019.3,315.3h-5.8M593.2,295.2h-3.6M1019.3,295.2h-3.6M593.2,275.2h-5.8M1019.3,275.2h-5.8M593.2,255.1h-3.6M1019.3,255.1h-3.6M593.2,235.0h-5.8M1019.3,235.0h-5.8M593.2,215.0h-3.6M1019.3,215.0h-3.6M593.2,194.9h-5.8M1019.3,194.9h-5.8M593.2,174.8h-3.6M1019.3,174.8h-3.6M593.2,154.7h-5.8M1019.3,154.7h-5.8M593.2,134.7h-3.6M1019.3,134.7h-3.6M593.2,114.6h-5.8M1019.3,114.6h-5.8M593.2,94.5h-3.6M1019.3,94.5h-3.6M593.2,74.5h-5.8M1019.3,74.5h-5.8M593.2,54.4h-3.6M1019.3,54.4h-3.6M593.2,34.3h-5.8M1019.3,34.3h-5.8M593.2,14.3h-3.6M1019.3,14.3h-3.6" stroke="#000" stroke-width="2.1" fill="none"/>
<text x="625.90" y="341.40" text-anchor="middle" fill="#000" stroke="#000" stroke-width="0.3" style="font-family:'Liberation Serif',serif;font-weight:bold"><tspan style="font-size:19.19px">-4</tspan></text>
<text x="691.50" y="341.40" text-anchor="middle" fill="#000" stroke="#000" stroke-width="0.3" style="font-family:'Liberation Serif',serif;font-weight:bold"><tspan style="font-size:19.19px">-3</tspan></text>
<text x="757.10" y="341.40" text-anchor="middle" fill="#000" stroke="#000" stroke-width="0.3" style="font-family:'Liberation Serif',serif;font-weight:bold"><tspan style="font-size:19.19px">-2</tspan></text>
<text x="822.70" y="341.40" text-anchor="middle" fill="#000" stroke="#000" stroke-width="0.3" style="font-family:'Liberation Serif',serif;font-weight:bold"><tspan style="font-size:19.19px">-1</tspan></text>
<text x="888.30" y="341.40" text-anchor="middle" fill="#000" stroke="#000" stroke-width="0.3" style="font-family:'Liberation Serif',serif;font-weight:bold"><tspan style="font-size:19.19px">0</tspan></text>
<text x="953.90" y="341.40" text-anchor="middle" fill="#000" stroke="#000" stroke-width="0.3" style="font-family:'Liberation Serif',serif;font-weight:bold"><tspan style="font-size:19.19px">1</tspan></text>
<text x="1019.50" y="341.40" text-anchor="middle" fill="#000" stroke="#000" stroke-width="0.3" style="font-family:'Liberation Serif',serif;font-weight:bold"><tspan style="font-size:19.19px">2</tspan></text>
<text x="581.50" y="321.90" text-anchor="end" fill="#000" stroke="#000" stroke-width="0.3" style="font-family:'Liberation Serif',serif;font-weight:bold"><tspan style="font-size:19.84px">0.0</tspan></text>
<text x="581.50" y="281.76" text-anchor="end" fill="#000" stroke="#000" stroke-width="0.3" style="font-family:'Liberation Serif',serif;font-weight:bold"><tspan style="font-size:19.84px">0.1</tspan></text>
<text x="581.50" y="241.62" text-anchor="end" fill="#000" stroke="#000" stroke-width="0.3" style="font-family:'Liberation Serif',serif;font-weight:bold"><tspan style="font-size:19.84px">0.2</tspan></text>
<text x="581.50" y="201.48" text-anchor="end" fill="#000" stroke="#000" stroke-width="0.3" style="font-family:'Liberation Serif',serif;font-weight:bold"><tspan style="font-size:19.84px">0.3</tspan></text>
<text x="581.50" y="161.34" text-anchor="end" fill="#000" stroke="#000" stroke-width="0.3" style="font-family:'Liberation Serif',serif;font-weight:bold"><tspan style="font-size:19.84px">0.4</tspan></text>
<text x="581.50" y="121.20" text-anchor="end" fill="#000" stroke="#000" stroke-width="0.3" style="font-family:'Liberation Serif',serif;font-weight:bold"><tspan style="font-size:19.84px">0.5</tspan></text>
<text x="581.50" y="81.06" text-anchor="end" fill="#000" stroke="#000" stroke-width="0.3" style="font-family:'Liberation Serif',serif;font-weight:bold"><tspan style="font-size:19.84px">0.6</tspan></text>
<text x="581.50" y="40.92" text-anchor="end" fill="#000" stroke="#000" stroke-width="0.3" style="font-family:'Liberation Serif',serif;font-weight:bold"><tspan style="font-size:19.84px">0.7</tspan></text>
<text x="765.80" y="363.90" text-anchor="start" fill="#000" stroke="#000" stroke-width="0.3" style="font-family:'Liberation Serif',serif;font-weight:bold"><tspan style="font-size:21.25px">Voltage (V)</tspan></text>
<text transform="translate(547.30,220.60) rotate(-90)" text-anchor="start" fill="#000" stroke="#000" stroke-width="0.3" style="font-family:'Liberation Serif',serif;font-weight:bold"><tspan style="font-size:21.68px">1/C</tspan><tspan dy="-7.81" style="font-size:14.75px">2</tspan><tspan dy="7.81" style="font-size:21.68px">(x10</tspan><tspan dy="-7.81" style="font-size:14.75px">21</tspan><tspan dy="7.81" style="font-size:21.68px">/F</tspan><tspan dy="-7.81" style="font-size:14.75px">2</tspan><tspan dy="7.81" style="font-size:21.68px">)</tspan></text>
<text x="600.00" y="24.70" text-anchor="start" fill="#000" stroke="#000" stroke-width="0.3" style="font-family:'Liberation Serif',serif;font-weight:bold"><tspan style="font-size:22.25px">(b)</tspan></text>
<text x="779.20" y="29.60" text-anchor="start" fill="#000" stroke="#000" stroke-width="0.3" style="font-family:'Liberation Serif',serif;font-weight:bold"><tspan style="font-size:21.09px">SiO</tspan><tspan dy="5.27" style="font-size:12.66px">2</tspan><tspan dy="-5.27" style="font-size:21.09px">(30 nm)/4H-SiC</tspan></text>
<text x="779.20" y="61.60" text-anchor="start" fill="#000" stroke="#000" stroke-width="0.3" style="font-family:'Liberation Serif',serif;font-weight:bold"><tspan style="font-size:21.23px">HfO</tspan><tspan dy="5.31" style="font-size:12.74px">2</tspan><tspan dy="-5.31" style="font-size:21.23px">(5 nm)/SiO</tspan><tspan dy="5.31" style="font-size:12.74px">2</tspan><tspan dy="-5.31" style="font-size:21.23px">/4H-SiC</tspan></text>
<text x="779.20" y="91.90" text-anchor="start" fill="#000" stroke="#000" stroke-width="0.3" style="font-family:'Liberation Serif',serif;font-weight:bold"><tspan style="font-size:21.40px">HfO</tspan><tspan dy="5.35" style="font-size:12.84px">2</tspan><tspan dy="-5.35" style="font-size:21.40px">(10 nm)/SiO</tspan><tspan dy="5.35" style="font-size:12.84px">2</tspan><tspan dy="-5.35" style="font-size:21.40px">/4H-SiC</tspan></text>
<text x="721.80" y="266.20" text-anchor="start" fill="#000" stroke="#000" stroke-width="0.3" style="font-family:'Liberation Serif',serif;font-weight:bold"><tspan style="font-size:24.00px">V</tspan><tspan dy="4.07" style="font-size:13.71px">FB</tspan><tspan style="font-size:9.00px">1</tspan><tspan dy="-4.07" style="font-size:21.43px">=1.20 V</tspan></text>
<text x="865.80" y="212.70" text-anchor="start" fill="#0000ff" stroke="#0000ff" stroke-width="0.3" style="font-family:'Liberation Serif',serif;font-weight:bold"><tspan style="font-size:23.78px">V</tspan><tspan dy="3.61" style="font-size:13.16px">FB2</tspan><tspan dy="-3.61" style="font-size:21.23px">=1.50 V</tspan></text>
<text x="909.00" y="187.70" text-anchor="start" fill="#ff0000" stroke="#ff0000" stroke-width="0.3" style="font-family:'Liberation Serif',serif;font-weight:bold"><tspan style="font-size:23.95px">V</tspan><tspan dy="3.64" style="font-size:13.26px">FB2</tspan><tspan dy="-3.64" style="font-size:21.39px">=1.67 V</tspan></text>
<path d="M1019.3,0.8999999999999999V316.40000000000003" stroke="#000" stroke-width="2.2"/>
<path d="M724.2,22.4H772.9" stroke="#404040" stroke-width="2"/>
<rect x="744.2" y="18.2" width="9" height="8.6" fill="#505050"/>
<path d="M724.2,53.7H772.9" stroke="#e8282b" stroke-width="2"/>
<circle cx="748.8" cy="53.7" r="4.6" fill="#f03c3c" stroke="#e02020" stroke-width="1"/>
<path d="M724.2,84.2H772.9" stroke="#1010f0" stroke-width="2"/>
<path d="M748.8,78.3L754.3,87.6L743.3,87.6Z" fill="#0000ff"/>
<line x1="779.6" y1="273.4" x2="938.9" y2="311.4" stroke="#000" stroke-width="2.4"/>
<path d="M952.5,314.6L938.0,315.1L939.8,307.7Z" fill="#000"/>
<line x1="915.4" y1="221.2" x2="974.6" y2="302.2" stroke="#0000ff" stroke-width="2.4"/>
<path d="M983.5,314.3L971.4,304.6L977.9,299.8Z" fill="#0000ff"/>
<line x1="979.7" y1="193.3" x2="993.6" y2="299.6" stroke="#ff0000" stroke-width="2.4"/>
<path d="M995.4,313.5L989.8,300.1L997.4,299.1Z" fill="#ff0000"/>
</svg></body></html>
